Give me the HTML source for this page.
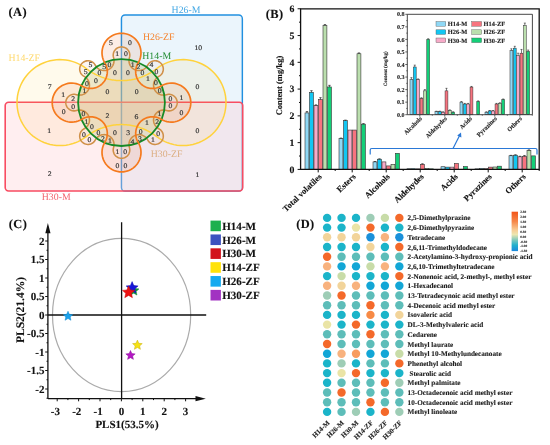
<!DOCTYPE html>
<html><head><meta charset="utf-8"><title>Figure</title>
<style>html,body{margin:0;padding:0;background:#fff;}svg{display:block;filter:blur(0.3px);}</style></head>
<body><svg width="550" height="445" viewBox="0 0 550 445" text-rendering="geometricPrecision">
<rect width="550" height="445" fill="#fff"/>
<g id="panelA">
<rect x="121.45" y="15.05" width="120.9" height="175.95" rx="3.6" fill="rgb(60,160,230)" fill-opacity="0.10" stroke="#2290e0" stroke-width="1.45"/>
<rect x="5.2" y="102.2" width="237.5" height="88.8" rx="3.4" fill="rgb(255,200,205)" fill-opacity="0.30" stroke="#f84c62" stroke-width="1.6"/>
<circle cx="121.5" cy="102.6" r="43.4" fill="rgb(123,160,0)" fill-opacity="0.17"/>
<path d="M156.7 136.62 L159.3 138.48 L162.03 140.14 L164.87 141.59 L167.82 142.83 L170.84 143.85 L173.94 144.63 L177.08 145.19 L180.26 145.51 L183.45 145.6 L186.64 145.45 L189.82 145.06 L192.95 144.43 L196.03 143.58 L199.03 142.5 L201.95 141.2 L204.76 139.69 L207.45 137.97 L210.01 136.06 L212.42 133.96 L214.67 131.69 L216.74 129.26 L218.63 126.68 L220.31 123.97 L221.8 121.14 L223.07 118.21 L224.12 115.19 L224.94 112.11 L225.53 108.97 L225.88 105.79 L226 102.6 L225.88 99.41 L225.53 96.23 L224.94 93.09 L224.12 90.01 L223.07 86.99 L221.8 84.06 L220.31 81.23 L218.63 78.52 L216.74 75.94 L214.67 73.51 L212.42 71.24 L210.01 69.14 L207.45 67.23 L204.76 65.51 L201.95 64 L199.03 62.7 L196.03 61.62 L192.95 60.77 L189.82 60.14 L186.64 59.75 L183.45 59.6 L180.26 59.69 L177.08 60.01 L173.94 60.57 L170.84 61.35 L167.82 62.37 L164.87 63.61 L162.03 65.06 L159.3 66.72 L156.7 68.58 L155.69 69.34 L154.67 70.08 L153.63 70.8 L152.57 71.49 L151.5 72.16 L150.42 72.81 L149.32 73.43 L148.21 74.03 L147.09 74.6 L145.95 75.15 L144.8 75.67 L143.64 76.17 L142.47 76.64 L141.29 77.09 L140.1 77.51 L138.9 77.91 L137.69 78.28 L136.48 78.62 L135.25 78.93 L134.02 79.22 L132.79 79.48 L131.55 79.72 L130.3 79.92 L129.05 80.1 L127.8 80.25 L126.54 80.38 L125.28 80.48 L124.02 80.54 L122.76 80.59 L121.5 80.6 L120.24 80.59 L118.98 80.54 L117.72 80.48 L116.46 80.38 L115.2 80.25 L113.95 80.1 L112.7 79.92 L111.45 79.72 L110.21 79.48 L108.98 79.22 L107.75 78.93 L106.52 78.62 L105.31 78.28 L104.1 77.91 L102.9 77.51 L101.71 77.09 L100.53 76.64 L99.36 76.17 L98.2 75.67 L97.05 75.15 L95.91 74.6 L94.79 74.03 L93.68 73.43 L92.58 72.81 L91.5 72.16 L90.43 71.49 L89.37 70.8 L88.33 70.08 L87.31 69.34 L86.3 68.58 L83.7 66.72 L80.97 65.06 L78.13 63.61 L75.18 62.37 L72.16 61.35 L69.06 60.57 L65.92 60.01 L62.74 59.69 L59.55 59.6 L56.36 59.75 L53.18 60.14 L50.05 60.77 L46.97 61.62 L43.97 62.7 L41.05 64 L38.24 65.51 L35.55 67.23 L32.99 69.14 L30.58 71.24 L28.33 73.51 L26.26 75.94 L24.37 78.52 L22.69 81.23 L21.2 84.06 L19.93 86.99 L18.88 90.01 L18.06 93.09 L17.47 96.23 L17.12 99.41 L17 102.6 L17.12 105.79 L17.47 108.97 L18.06 112.11 L18.88 115.19 L19.93 118.21 L21.2 121.14 L22.69 123.97 L24.37 126.68 L26.26 129.26 L28.33 131.69 L30.58 133.96 L32.99 136.06 L35.55 137.97 L38.24 139.69 L41.05 141.2 L43.97 142.5 L46.97 143.58 L50.05 144.43 L53.18 145.06 L56.36 145.45 L59.55 145.6 L62.74 145.51 L65.92 145.19 L69.06 144.63 L72.16 143.85 L75.18 142.83 L78.13 141.59 L80.97 140.14 L83.7 138.48 L86.3 136.62 L87.31 135.86 L88.33 135.12 L89.37 134.4 L90.43 133.71 L91.5 133.04 L92.58 132.39 L93.68 131.77 L94.79 131.17 L95.91 130.6 L97.05 130.05 L98.2 129.53 L99.36 129.03 L100.53 128.56 L101.71 128.11 L102.9 127.69 L104.1 127.29 L105.31 126.92 L106.52 126.58 L107.75 126.27 L108.98 125.98 L110.21 125.72 L111.45 125.48 L112.7 125.28 L113.95 125.1 L115.2 124.95 L116.46 124.82 L117.72 124.72 L118.98 124.66 L120.24 124.61 L121.5 124.6 L122.76 124.61 L124.02 124.66 L125.28 124.72 L126.54 124.82 L127.8 124.95 L129.05 125.1 L130.3 125.28 L131.55 125.48 L132.79 125.72 L134.02 125.98 L135.25 126.27 L136.48 126.58 L137.69 126.92 L138.9 127.29 L140.1 127.69 L141.29 128.11 L142.47 128.56 L143.64 129.03 L144.8 129.53 L145.95 130.05 L147.09 130.6 L148.21 131.17 L149.32 131.77 L150.42 132.39 L151.5 133.04 L152.57 133.71 L153.63 134.4 L154.67 135.12 L155.69 135.86Z" fill="rgb(255,196,30)" fill-opacity="0.085" stroke="none"/>
<path d="M138.14 62.96 L139.12 61.14 L139.91 59.23 L140.49 57.25 L140.85 55.22 L141 53.16 L140.93 51.1 L140.64 49.05 L140.13 47.05 L139.42 45.11 L138.51 43.26 L137.4 41.51 L136.12 39.89 L134.67 38.42 L133.08 37.11 L131.35 35.97 L129.52 35.03 L127.59 34.28 L125.6 33.74 L123.56 33.41 L121.5 33.3 L119.44 33.41 L117.4 33.74 L115.41 34.28 L113.48 35.03 L111.65 35.97 L109.92 37.11 L108.33 38.42 L106.88 39.89 L105.6 41.51 L104.49 43.26 L103.58 45.11 L102.87 47.05 L102.36 49.05 L102.07 51.1 L102 53.16 L102.15 55.22 L102.51 57.25 L103.09 59.23 L103.88 61.14 L104.86 62.96 L105.41 63.93 L105.89 64.94 L106.3 65.97 L106.65 67.03 L106.92 68.11 L107.12 69.21 L107.25 70.32 L107.31 71.43 L107.29 72.55 L107.19 73.66 L107.02 74.76 L106.78 75.85 L106.47 76.92 L106.08 77.97 L105.63 78.99 L105.11 79.97 L104.52 80.92 L103.88 81.83 L103.17 82.69 L102.41 83.51 L101.59 84.27 L100.73 84.98 L99.82 85.62 L98.87 86.21 L97.89 86.73 L96.87 87.18 L95.82 87.57 L94.75 87.88 L93.66 88.12 L92.56 88.29 L91.45 88.39 L90.33 88.41 L89.22 88.35 L88.11 88.22 L87.01 88.02 L85.93 87.75 L84.87 87.4 L83.84 86.99 L82.83 86.51 L81.86 85.96 L80.04 84.98 L78.13 84.19 L76.15 83.61 L74.12 83.25 L72.06 83.1 L70 83.17 L67.95 83.46 L65.95 83.97 L64.01 84.68 L62.16 85.59 L60.41 86.7 L58.79 87.98 L57.32 89.43 L56.01 91.02 L54.87 92.75 L53.93 94.58 L53.18 96.51 L52.64 98.5 L52.31 100.54 L52.2 102.6 L52.31 104.66 L52.64 106.7 L53.18 108.69 L53.93 110.62 L54.87 112.45 L56.01 114.18 L57.32 115.77 L58.79 117.22 L60.41 118.5 L62.16 119.61 L64.01 120.52 L65.95 121.23 L67.95 121.74 L70 122.03 L72.06 122.1 L74.12 121.95 L76.15 121.59 L78.13 121.01 L80.04 120.22 L81.86 119.24 L82.83 118.69 L83.84 118.21 L84.87 117.8 L85.93 117.45 L87.01 117.18 L88.11 116.98 L89.22 116.85 L90.33 116.79 L91.45 116.81 L92.56 116.91 L93.66 117.08 L94.75 117.32 L95.82 117.63 L96.87 118.02 L97.89 118.47 L98.87 118.99 L99.82 119.58 L100.73 120.22 L101.59 120.93 L102.41 121.69 L103.17 122.51 L103.88 123.37 L104.52 124.28 L105.11 125.23 L105.63 126.21 L106.08 127.23 L106.47 128.28 L106.78 129.35 L107.02 130.44 L107.19 131.54 L107.29 132.65 L107.31 133.77 L107.25 134.88 L107.12 135.99 L106.92 137.09 L106.65 138.17 L106.3 139.23 L105.89 140.26 L105.41 141.27 L104.86 142.24 L103.88 144.06 L103.09 145.97 L102.51 147.95 L102.15 149.98 L102 152.04 L102.07 154.1 L102.36 156.15 L102.87 158.15 L103.58 160.09 L104.49 161.94 L105.6 163.69 L106.88 165.31 L108.33 166.78 L109.92 168.09 L111.65 169.23 L113.48 170.17 L115.41 170.92 L117.4 171.46 L119.44 171.79 L121.5 171.9 L123.56 171.79 L125.6 171.46 L127.59 170.92 L129.52 170.17 L131.35 169.23 L133.08 168.09 L134.67 166.78 L136.12 165.31 L137.4 163.69 L138.51 161.94 L139.42 160.09 L140.13 158.15 L140.64 156.15 L140.93 154.1 L141 152.04 L140.85 149.98 L140.49 147.95 L139.91 145.97 L139.12 144.06 L138.14 142.24 L137.59 141.27 L137.11 140.26 L136.7 139.23 L136.35 138.17 L136.08 137.09 L135.88 135.99 L135.75 134.88 L135.69 133.77 L135.71 132.65 L135.81 131.54 L135.98 130.44 L136.22 129.35 L136.53 128.28 L136.92 127.23 L137.37 126.21 L137.89 125.23 L138.48 124.28 L139.12 123.37 L139.83 122.51 L140.59 121.69 L141.41 120.93 L142.27 120.22 L143.18 119.58 L144.13 118.99 L145.11 118.47 L146.13 118.02 L147.18 117.63 L148.25 117.32 L149.34 117.08 L150.44 116.91 L151.55 116.81 L152.67 116.79 L153.78 116.85 L154.89 116.98 L155.99 117.18 L157.07 117.45 L158.13 117.8 L159.16 118.21 L160.17 118.69 L161.14 119.24 L162.96 120.22 L164.87 121.01 L166.85 121.59 L168.88 121.95 L170.94 122.1 L173 122.03 L175.05 121.74 L177.05 121.23 L178.99 120.52 L180.84 119.61 L182.59 118.5 L184.21 117.22 L185.68 115.77 L186.99 114.18 L188.13 112.45 L189.07 110.62 L189.82 108.69 L190.36 106.7 L190.69 104.66 L190.8 102.6 L190.69 100.54 L190.36 98.5 L189.82 96.51 L189.07 94.58 L188.13 92.75 L186.99 91.02 L185.68 89.43 L184.21 87.98 L182.59 86.7 L180.84 85.59 L178.99 84.68 L177.05 83.97 L175.05 83.46 L173 83.17 L170.94 83.1 L168.88 83.25 L166.85 83.61 L164.87 84.19 L162.96 84.98 L161.14 85.96 L160.17 86.51 L159.16 86.99 L158.13 87.4 L157.07 87.75 L155.99 88.02 L154.89 88.22 L153.78 88.35 L152.67 88.41 L151.55 88.39 L150.44 88.29 L149.34 88.12 L148.25 87.88 L147.18 87.57 L146.13 87.18 L145.11 86.73 L144.13 86.21 L143.18 85.62 L142.27 84.98 L141.41 84.27 L140.59 83.51 L139.83 82.69 L139.12 81.83 L138.48 80.92 L137.89 79.97 L137.37 78.99 L136.92 77.97 L136.53 76.92 L136.22 75.85 L135.98 74.76 L135.81 73.66 L135.71 72.55 L135.69 71.43 L135.75 70.32 L135.88 69.21 L136.08 68.11 L136.35 67.03 L136.7 65.97 L137.11 64.94 L137.59 63.93Z" fill="rgb(232,115,53)" fill-opacity="0.125" stroke="none"/>
<path d="M129.42 57.68 L129.67 56.68 L129.79 55.65 L129.78 54.61 L129.64 53.58 L129.38 52.58 L128.99 51.62 L128.48 50.71 L127.87 49.88 L127.16 49.13 L126.36 48.47 L125.48 47.92 L124.54 47.48 L123.55 47.16 L122.53 46.96 L121.5 46.9 L120.47 46.96 L119.45 47.16 L118.46 47.48 L117.52 47.92 L116.64 48.47 L115.84 49.13 L115.13 49.88 L114.52 50.71 L114.01 51.62 L113.62 52.58 L113.36 53.58 L113.22 54.61 L113.21 55.65 L113.33 56.68 L113.58 57.68 L113.83 58.63 L113.98 59.6 L114.03 60.57 L113.99 61.55 L113.85 62.52 L113.62 63.47 L113.3 64.39 L112.88 65.28 L112.38 66.12 L111.8 66.91 L111.15 67.64 L110.42 68.3 L109.64 68.88 L108.8 69.38 L107.91 69.8 L106.99 70.13 L106.04 70.37 L105.08 70.51 L104.1 70.56 L103.12 70.51 L102.15 70.36 L101.2 70.12 L100.28 69.78 L99.4 69.36 L98.57 68.85 L97.78 68.26 L97.06 67.6 L96.41 66.87 L95.83 66.08 L95.34 65.24 L94.8 64.35 L94.16 63.54 L93.42 62.81 L92.6 62.18 L91.7 61.66 L90.75 61.26 L89.75 60.97 L88.72 60.82 L87.69 60.79 L86.66 60.89 L85.65 61.12 L84.67 61.47 L83.75 61.94 L82.89 62.53 L82.11 63.21 L81.43 63.99 L80.84 64.85 L80.37 65.77 L80.02 66.75 L79.79 67.76 L79.69 68.79 L79.72 69.82 L79.87 70.85 L80.16 71.85 L80.56 72.8 L81.08 73.7 L81.71 74.52 L82.44 75.26 L83.25 75.9 L84.14 76.44 L84.98 76.93 L85.77 77.51 L86.5 78.16 L87.16 78.88 L87.75 79.67 L88.26 80.5 L88.68 81.38 L89.02 82.3 L89.26 83.25 L89.41 84.22 L89.46 85.2 L89.41 86.18 L89.27 87.14 L89.03 88.09 L88.7 89.01 L88.28 89.9 L87.78 90.74 L87.2 91.52 L86.54 92.25 L85.81 92.9 L85.02 93.48 L84.18 93.98 L83.29 94.4 L82.37 94.72 L81.42 94.95 L80.45 95.09 L79.47 95.13 L78.5 95.08 L77.53 94.93 L76.58 94.68 L75.58 94.43 L74.55 94.31 L73.51 94.32 L72.48 94.46 L71.48 94.72 L70.52 95.11 L69.61 95.62 L68.78 96.23 L68.03 96.94 L67.37 97.74 L66.82 98.62 L66.38 99.56 L66.06 100.55 L65.86 101.57 L65.8 102.6 L65.86 103.63 L66.06 104.65 L66.38 105.64 L66.82 106.58 L67.37 107.46 L68.03 108.26 L68.78 108.97 L69.61 109.58 L70.52 110.09 L71.48 110.48 L72.48 110.74 L73.51 110.88 L74.55 110.89 L75.58 110.77 L76.58 110.52 L77.53 110.27 L78.5 110.12 L79.47 110.07 L80.45 110.11 L81.42 110.25 L82.37 110.48 L83.29 110.8 L84.18 111.22 L85.02 111.72 L85.81 112.3 L86.54 112.95 L87.2 113.68 L87.78 114.46 L88.28 115.3 L88.7 116.19 L89.03 117.11 L89.27 118.06 L89.41 119.02 L89.46 120 L89.41 120.98 L89.26 121.95 L89.02 122.9 L88.68 123.82 L88.26 124.7 L87.75 125.53 L87.16 126.32 L86.5 127.04 L85.77 127.69 L84.98 128.27 L84.14 128.76 L83.25 129.3 L82.44 129.94 L81.71 130.68 L81.08 131.5 L80.56 132.4 L80.16 133.35 L79.87 134.35 L79.72 135.38 L79.69 136.41 L79.79 137.44 L80.02 138.45 L80.37 139.43 L80.84 140.35 L81.43 141.21 L82.11 141.99 L82.89 142.67 L83.75 143.26 L84.67 143.73 L85.65 144.08 L86.66 144.31 L87.69 144.41 L88.72 144.38 L89.75 144.23 L90.75 143.94 L91.7 143.54 L92.6 143.02 L93.42 142.39 L94.16 141.66 L94.8 140.85 L95.34 139.96 L95.83 139.12 L96.41 138.33 L97.06 137.6 L97.78 136.94 L98.57 136.35 L99.4 135.84 L100.28 135.42 L101.2 135.08 L102.15 134.84 L103.12 134.69 L104.1 134.64 L105.08 134.69 L106.04 134.83 L106.99 135.07 L107.91 135.4 L108.8 135.82 L109.64 136.32 L110.42 136.9 L111.15 137.56 L111.8 138.29 L112.38 139.08 L112.88 139.92 L113.3 140.81 L113.62 141.73 L113.85 142.68 L113.99 143.65 L114.03 144.63 L113.98 145.6 L113.83 146.57 L113.58 147.52 L113.33 148.52 L113.21 149.55 L113.22 150.59 L113.36 151.62 L113.62 152.62 L114.01 153.58 L114.52 154.49 L115.13 155.32 L115.84 156.07 L116.64 156.73 L117.52 157.28 L118.46 157.72 L119.45 158.04 L120.47 158.24 L121.5 158.3 L122.53 158.24 L123.55 158.04 L124.54 157.72 L125.48 157.28 L126.36 156.73 L127.16 156.07 L127.87 155.32 L128.48 154.49 L128.99 153.58 L129.38 152.62 L129.64 151.62 L129.78 150.59 L129.79 149.55 L129.67 148.52 L129.42 147.52 L129.17 146.57 L129.02 145.6 L128.97 144.63 L129.01 143.65 L129.15 142.68 L129.38 141.73 L129.7 140.81 L130.12 139.92 L130.62 139.08 L131.2 138.29 L131.85 137.56 L132.58 136.9 L133.36 136.32 L134.2 135.82 L135.09 135.4 L136.01 135.07 L136.96 134.83 L137.92 134.69 L138.9 134.64 L139.88 134.69 L140.85 134.84 L141.8 135.08 L142.72 135.42 L143.6 135.84 L144.43 136.35 L145.22 136.94 L145.94 137.6 L146.59 138.33 L147.17 139.12 L147.66 139.96 L148.2 140.85 L148.84 141.66 L149.58 142.39 L150.4 143.02 L151.3 143.54 L152.25 143.94 L153.25 144.23 L154.28 144.38 L155.31 144.41 L156.34 144.31 L157.35 144.08 L158.33 143.73 L159.25 143.26 L160.11 142.67 L160.89 141.99 L161.57 141.21 L162.16 140.35 L162.63 139.43 L162.98 138.45 L163.21 137.44 L163.31 136.41 L163.28 135.38 L163.13 134.35 L162.84 133.35 L162.44 132.4 L161.92 131.5 L161.29 130.68 L160.56 129.94 L159.75 129.3 L158.86 128.76 L158.02 128.27 L157.23 127.69 L156.5 127.04 L155.84 126.32 L155.25 125.53 L154.74 124.7 L154.32 123.82 L153.98 122.9 L153.74 121.95 L153.59 120.98 L153.54 120 L153.59 119.02 L153.73 118.06 L153.97 117.11 L154.3 116.19 L154.72 115.3 L155.22 114.46 L155.8 113.68 L156.46 112.95 L157.19 112.3 L157.98 111.72 L158.82 111.22 L159.71 110.8 L160.63 110.48 L161.58 110.25 L162.55 110.11 L163.53 110.07 L164.5 110.12 L165.47 110.27 L166.42 110.52 L167.42 110.77 L168.45 110.89 L169.49 110.88 L170.52 110.74 L171.52 110.48 L172.48 110.09 L173.39 109.58 L174.22 108.97 L174.97 108.26 L175.63 107.46 L176.18 106.58 L176.62 105.64 L176.94 104.65 L177.14 103.63 L177.2 102.6 L177.14 101.57 L176.94 100.55 L176.62 99.56 L176.18 98.62 L175.63 97.74 L174.97 96.94 L174.22 96.23 L173.39 95.62 L172.48 95.11 L171.52 94.72 L170.52 94.46 L169.49 94.32 L168.45 94.31 L167.42 94.43 L166.42 94.68 L165.47 94.93 L164.5 95.08 L163.53 95.13 L162.55 95.09 L161.58 94.95 L160.63 94.72 L159.71 94.4 L158.82 93.98 L157.98 93.48 L157.19 92.9 L156.46 92.25 L155.8 91.52 L155.22 90.74 L154.72 89.9 L154.3 89.01 L153.97 88.09 L153.73 87.14 L153.59 86.18 L153.54 85.2 L153.59 84.22 L153.74 83.25 L153.98 82.3 L154.32 81.38 L154.74 80.5 L155.25 79.67 L155.84 78.88 L156.5 78.16 L157.23 77.51 L158.02 76.93 L158.86 76.44 L159.75 75.9 L160.56 75.26 L161.29 74.52 L161.92 73.7 L162.44 72.8 L162.84 71.85 L163.13 70.85 L163.28 69.82 L163.31 68.79 L163.21 67.76 L162.98 66.75 L162.63 65.77 L162.16 64.85 L161.57 63.99 L160.89 63.21 L160.11 62.53 L159.25 61.94 L158.33 61.47 L157.35 61.12 L156.34 60.89 L155.31 60.79 L154.28 60.82 L153.25 60.97 L152.25 61.26 L151.3 61.66 L150.4 62.18 L149.58 62.81 L148.84 63.54 L148.2 64.35 L147.66 65.24 L147.17 66.08 L146.59 66.87 L145.94 67.6 L145.22 68.26 L144.43 68.85 L143.6 69.36 L142.72 69.78 L141.8 70.12 L140.85 70.36 L139.88 70.51 L138.9 70.56 L137.92 70.51 L136.96 70.37 L136.01 70.13 L135.09 69.8 L134.2 69.38 L133.36 68.88 L132.58 68.3 L131.85 67.64 L131.2 66.91 L130.62 66.12 L130.12 65.28 L129.7 64.39 L129.38 63.47 L129.15 62.52 L129.01 61.55 L128.97 60.57 L129.02 59.6 L129.17 58.63Z" fill="rgb(244,223,212)" fill-opacity="0.28" stroke="none"/>
<path d="M156.7 136.62 L159.3 138.48 L162.03 140.14 L164.87 141.59 L167.82 142.83 L170.84 143.85 L173.94 144.63 L177.08 145.19 L180.26 145.51 L183.45 145.6 L186.64 145.45 L189.82 145.06 L192.95 144.43 L196.03 143.58 L199.03 142.5 L201.95 141.2 L204.76 139.69 L207.45 137.97 L210.01 136.06 L212.42 133.96 L214.67 131.69 L216.74 129.26 L218.63 126.68 L220.31 123.97 L221.8 121.14 L223.07 118.21 L224.12 115.19 L224.94 112.11 L225.53 108.97 L225.88 105.79 L226 102.6 L225.88 99.41 L225.53 96.23 L224.94 93.09 L224.12 90.01 L223.07 86.99 L221.8 84.06 L220.31 81.23 L218.63 78.52 L216.74 75.94 L214.67 73.51 L212.42 71.24 L210.01 69.14 L207.45 67.23 L204.76 65.51 L201.95 64 L199.03 62.7 L196.03 61.62 L192.95 60.77 L189.82 60.14 L186.64 59.75 L183.45 59.6 L180.26 59.69 L177.08 60.01 L173.94 60.57 L170.84 61.35 L167.82 62.37 L164.87 63.61 L162.03 65.06 L159.3 66.72 L156.7 68.58 L155.69 69.34 L154.67 70.08 L153.63 70.8 L152.57 71.49 L151.5 72.16 L150.42 72.81 L149.32 73.43 L148.21 74.03 L147.09 74.6 L145.95 75.15 L144.8 75.67 L143.64 76.17 L142.47 76.64 L141.29 77.09 L140.1 77.51 L138.9 77.91 L137.69 78.28 L136.48 78.62 L135.25 78.93 L134.02 79.22 L132.79 79.48 L131.55 79.72 L130.3 79.92 L129.05 80.1 L127.8 80.25 L126.54 80.38 L125.28 80.48 L124.02 80.54 L122.76 80.59 L121.5 80.6 L120.24 80.59 L118.98 80.54 L117.72 80.48 L116.46 80.38 L115.2 80.25 L113.95 80.1 L112.7 79.92 L111.45 79.72 L110.21 79.48 L108.98 79.22 L107.75 78.93 L106.52 78.62 L105.31 78.28 L104.1 77.91 L102.9 77.51 L101.71 77.09 L100.53 76.64 L99.36 76.17 L98.2 75.67 L97.05 75.15 L95.91 74.6 L94.79 74.03 L93.68 73.43 L92.58 72.81 L91.5 72.16 L90.43 71.49 L89.37 70.8 L88.33 70.08 L87.31 69.34 L86.3 68.58 L83.7 66.72 L80.97 65.06 L78.13 63.61 L75.18 62.37 L72.16 61.35 L69.06 60.57 L65.92 60.01 L62.74 59.69 L59.55 59.6 L56.36 59.75 L53.18 60.14 L50.05 60.77 L46.97 61.62 L43.97 62.7 L41.05 64 L38.24 65.51 L35.55 67.23 L32.99 69.14 L30.58 71.24 L28.33 73.51 L26.26 75.94 L24.37 78.52 L22.69 81.23 L21.2 84.06 L19.93 86.99 L18.88 90.01 L18.06 93.09 L17.47 96.23 L17.12 99.41 L17 102.6 L17.12 105.79 L17.47 108.97 L18.06 112.11 L18.88 115.19 L19.93 118.21 L21.2 121.14 L22.69 123.97 L24.37 126.68 L26.26 129.26 L28.33 131.69 L30.58 133.96 L32.99 136.06 L35.55 137.97 L38.24 139.69 L41.05 141.2 L43.97 142.5 L46.97 143.58 L50.05 144.43 L53.18 145.06 L56.36 145.45 L59.55 145.6 L62.74 145.51 L65.92 145.19 L69.06 144.63 L72.16 143.85 L75.18 142.83 L78.13 141.59 L80.97 140.14 L83.7 138.48 L86.3 136.62 L87.31 135.86 L88.33 135.12 L89.37 134.4 L90.43 133.71 L91.5 133.04 L92.58 132.39 L93.68 131.77 L94.79 131.17 L95.91 130.6 L97.05 130.05 L98.2 129.53 L99.36 129.03 L100.53 128.56 L101.71 128.11 L102.9 127.69 L104.1 127.29 L105.31 126.92 L106.52 126.58 L107.75 126.27 L108.98 125.98 L110.21 125.72 L111.45 125.48 L112.7 125.28 L113.95 125.1 L115.2 124.95 L116.46 124.82 L117.72 124.72 L118.98 124.66 L120.24 124.61 L121.5 124.6 L122.76 124.61 L124.02 124.66 L125.28 124.72 L126.54 124.82 L127.8 124.95 L129.05 125.1 L130.3 125.28 L131.55 125.48 L132.79 125.72 L134.02 125.98 L135.25 126.27 L136.48 126.58 L137.69 126.92 L138.9 127.29 L140.1 127.69 L141.29 128.11 L142.47 128.56 L143.64 129.03 L144.8 129.53 L145.95 130.05 L147.09 130.6 L148.21 131.17 L149.32 131.77 L150.42 132.39 L151.5 133.04 L152.57 133.71 L153.63 134.4 L154.67 135.12 L155.69 135.86Z" fill="none" stroke="#ffd23c" stroke-width="1.5"/>
<path d="M129.42 57.68 L129.67 56.68 L129.79 55.65 L129.78 54.61 L129.64 53.58 L129.38 52.58 L128.99 51.62 L128.48 50.71 L127.87 49.88 L127.16 49.13 L126.36 48.47 L125.48 47.92 L124.54 47.48 L123.55 47.16 L122.53 46.96 L121.5 46.9 L120.47 46.96 L119.45 47.16 L118.46 47.48 L117.52 47.92 L116.64 48.47 L115.84 49.13 L115.13 49.88 L114.52 50.71 L114.01 51.62 L113.62 52.58 L113.36 53.58 L113.22 54.61 L113.21 55.65 L113.33 56.68 L113.58 57.68 L113.83 58.63 L113.98 59.6 L114.03 60.57 L113.99 61.55 L113.85 62.52 L113.62 63.47 L113.3 64.39 L112.88 65.28 L112.38 66.12 L111.8 66.91 L111.15 67.64 L110.42 68.3 L109.64 68.88 L108.8 69.38 L107.91 69.8 L106.99 70.13 L106.04 70.37 L105.08 70.51 L104.1 70.56 L103.12 70.51 L102.15 70.36 L101.2 70.12 L100.28 69.78 L99.4 69.36 L98.57 68.85 L97.78 68.26 L97.06 67.6 L96.41 66.87 L95.83 66.08 L95.34 65.24 L94.8 64.35 L94.16 63.54 L93.42 62.81 L92.6 62.18 L91.7 61.66 L90.75 61.26 L89.75 60.97 L88.72 60.82 L87.69 60.79 L86.66 60.89 L85.65 61.12 L84.67 61.47 L83.75 61.94 L82.89 62.53 L82.11 63.21 L81.43 63.99 L80.84 64.85 L80.37 65.77 L80.02 66.75 L79.79 67.76 L79.69 68.79 L79.72 69.82 L79.87 70.85 L80.16 71.85 L80.56 72.8 L81.08 73.7 L81.71 74.52 L82.44 75.26 L83.25 75.9 L84.14 76.44 L84.98 76.93 L85.77 77.51 L86.5 78.16 L87.16 78.88 L87.75 79.67 L88.26 80.5 L88.68 81.38 L89.02 82.3 L89.26 83.25 L89.41 84.22 L89.46 85.2 L89.41 86.18 L89.27 87.14 L89.03 88.09 L88.7 89.01 L88.28 89.9 L87.78 90.74 L87.2 91.52 L86.54 92.25 L85.81 92.9 L85.02 93.48 L84.18 93.98 L83.29 94.4 L82.37 94.72 L81.42 94.95 L80.45 95.09 L79.47 95.13 L78.5 95.08 L77.53 94.93 L76.58 94.68 L75.58 94.43 L74.55 94.31 L73.51 94.32 L72.48 94.46 L71.48 94.72 L70.52 95.11 L69.61 95.62 L68.78 96.23 L68.03 96.94 L67.37 97.74 L66.82 98.62 L66.38 99.56 L66.06 100.55 L65.86 101.57 L65.8 102.6 L65.86 103.63 L66.06 104.65 L66.38 105.64 L66.82 106.58 L67.37 107.46 L68.03 108.26 L68.78 108.97 L69.61 109.58 L70.52 110.09 L71.48 110.48 L72.48 110.74 L73.51 110.88 L74.55 110.89 L75.58 110.77 L76.58 110.52 L77.53 110.27 L78.5 110.12 L79.47 110.07 L80.45 110.11 L81.42 110.25 L82.37 110.48 L83.29 110.8 L84.18 111.22 L85.02 111.72 L85.81 112.3 L86.54 112.95 L87.2 113.68 L87.78 114.46 L88.28 115.3 L88.7 116.19 L89.03 117.11 L89.27 118.06 L89.41 119.02 L89.46 120 L89.41 120.98 L89.26 121.95 L89.02 122.9 L88.68 123.82 L88.26 124.7 L87.75 125.53 L87.16 126.32 L86.5 127.04 L85.77 127.69 L84.98 128.27 L84.14 128.76 L83.25 129.3 L82.44 129.94 L81.71 130.68 L81.08 131.5 L80.56 132.4 L80.16 133.35 L79.87 134.35 L79.72 135.38 L79.69 136.41 L79.79 137.44 L80.02 138.45 L80.37 139.43 L80.84 140.35 L81.43 141.21 L82.11 141.99 L82.89 142.67 L83.75 143.26 L84.67 143.73 L85.65 144.08 L86.66 144.31 L87.69 144.41 L88.72 144.38 L89.75 144.23 L90.75 143.94 L91.7 143.54 L92.6 143.02 L93.42 142.39 L94.16 141.66 L94.8 140.85 L95.34 139.96 L95.83 139.12 L96.41 138.33 L97.06 137.6 L97.78 136.94 L98.57 136.35 L99.4 135.84 L100.28 135.42 L101.2 135.08 L102.15 134.84 L103.12 134.69 L104.1 134.64 L105.08 134.69 L106.04 134.83 L106.99 135.07 L107.91 135.4 L108.8 135.82 L109.64 136.32 L110.42 136.9 L111.15 137.56 L111.8 138.29 L112.38 139.08 L112.88 139.92 L113.3 140.81 L113.62 141.73 L113.85 142.68 L113.99 143.65 L114.03 144.63 L113.98 145.6 L113.83 146.57 L113.58 147.52 L113.33 148.52 L113.21 149.55 L113.22 150.59 L113.36 151.62 L113.62 152.62 L114.01 153.58 L114.52 154.49 L115.13 155.32 L115.84 156.07 L116.64 156.73 L117.52 157.28 L118.46 157.72 L119.45 158.04 L120.47 158.24 L121.5 158.3 L122.53 158.24 L123.55 158.04 L124.54 157.72 L125.48 157.28 L126.36 156.73 L127.16 156.07 L127.87 155.32 L128.48 154.49 L128.99 153.58 L129.38 152.62 L129.64 151.62 L129.78 150.59 L129.79 149.55 L129.67 148.52 L129.42 147.52 L129.17 146.57 L129.02 145.6 L128.97 144.63 L129.01 143.65 L129.15 142.68 L129.38 141.73 L129.7 140.81 L130.12 139.92 L130.62 139.08 L131.2 138.29 L131.85 137.56 L132.58 136.9 L133.36 136.32 L134.2 135.82 L135.09 135.4 L136.01 135.07 L136.96 134.83 L137.92 134.69 L138.9 134.64 L139.88 134.69 L140.85 134.84 L141.8 135.08 L142.72 135.42 L143.6 135.84 L144.43 136.35 L145.22 136.94 L145.94 137.6 L146.59 138.33 L147.17 139.12 L147.66 139.96 L148.2 140.85 L148.84 141.66 L149.58 142.39 L150.4 143.02 L151.3 143.54 L152.25 143.94 L153.25 144.23 L154.28 144.38 L155.31 144.41 L156.34 144.31 L157.35 144.08 L158.33 143.73 L159.25 143.26 L160.11 142.67 L160.89 141.99 L161.57 141.21 L162.16 140.35 L162.63 139.43 L162.98 138.45 L163.21 137.44 L163.31 136.41 L163.28 135.38 L163.13 134.35 L162.84 133.35 L162.44 132.4 L161.92 131.5 L161.29 130.68 L160.56 129.94 L159.75 129.3 L158.86 128.76 L158.02 128.27 L157.23 127.69 L156.5 127.04 L155.84 126.32 L155.25 125.53 L154.74 124.7 L154.32 123.82 L153.98 122.9 L153.74 121.95 L153.59 120.98 L153.54 120 L153.59 119.02 L153.73 118.06 L153.97 117.11 L154.3 116.19 L154.72 115.3 L155.22 114.46 L155.8 113.68 L156.46 112.95 L157.19 112.3 L157.98 111.72 L158.82 111.22 L159.71 110.8 L160.63 110.48 L161.58 110.25 L162.55 110.11 L163.53 110.07 L164.5 110.12 L165.47 110.27 L166.42 110.52 L167.42 110.77 L168.45 110.89 L169.49 110.88 L170.52 110.74 L171.52 110.48 L172.48 110.09 L173.39 109.58 L174.22 108.97 L174.97 108.26 L175.63 107.46 L176.18 106.58 L176.62 105.64 L176.94 104.65 L177.14 103.63 L177.2 102.6 L177.14 101.57 L176.94 100.55 L176.62 99.56 L176.18 98.62 L175.63 97.74 L174.97 96.94 L174.22 96.23 L173.39 95.62 L172.48 95.11 L171.52 94.72 L170.52 94.46 L169.49 94.32 L168.45 94.31 L167.42 94.43 L166.42 94.68 L165.47 94.93 L164.5 95.08 L163.53 95.13 L162.55 95.09 L161.58 94.95 L160.63 94.72 L159.71 94.4 L158.82 93.98 L157.98 93.48 L157.19 92.9 L156.46 92.25 L155.8 91.52 L155.22 90.74 L154.72 89.9 L154.3 89.01 L153.97 88.09 L153.73 87.14 L153.59 86.18 L153.54 85.2 L153.59 84.22 L153.74 83.25 L153.98 82.3 L154.32 81.38 L154.74 80.5 L155.25 79.67 L155.84 78.88 L156.5 78.16 L157.23 77.51 L158.02 76.93 L158.86 76.44 L159.75 75.9 L160.56 75.26 L161.29 74.52 L161.92 73.7 L162.44 72.8 L162.84 71.85 L163.13 70.85 L163.28 69.82 L163.31 68.79 L163.21 67.76 L162.98 66.75 L162.63 65.77 L162.16 64.85 L161.57 63.99 L160.89 63.21 L160.11 62.53 L159.25 61.94 L158.33 61.47 L157.35 61.12 L156.34 60.89 L155.31 60.79 L154.28 60.82 L153.25 60.97 L152.25 61.26 L151.3 61.66 L150.4 62.18 L149.58 62.81 L148.84 63.54 L148.2 64.35 L147.66 65.24 L147.17 66.08 L146.59 66.87 L145.94 67.6 L145.22 68.26 L144.43 68.85 L143.6 69.36 L142.72 69.78 L141.8 70.12 L140.85 70.36 L139.88 70.51 L138.9 70.56 L137.92 70.51 L136.96 70.37 L136.01 70.13 L135.09 69.8 L134.2 69.38 L133.36 68.88 L132.58 68.3 L131.85 67.64 L131.2 66.91 L130.62 66.12 L130.12 65.28 L129.7 64.39 L129.38 63.47 L129.15 62.52 L129.01 61.55 L128.97 60.57 L129.02 59.6 L129.17 58.63Z" fill="none" stroke="#d09048" stroke-width="1.55"/>
<circle cx="121.5" cy="102.6" r="43.4" fill="none" stroke="#168a26" stroke-width="1.8"/>
<path d="M138.14 62.96 L139.12 61.14 L139.91 59.23 L140.49 57.25 L140.85 55.22 L141 53.16 L140.93 51.1 L140.64 49.05 L140.13 47.05 L139.42 45.11 L138.51 43.26 L137.4 41.51 L136.12 39.89 L134.67 38.42 L133.08 37.11 L131.35 35.97 L129.52 35.03 L127.59 34.28 L125.6 33.74 L123.56 33.41 L121.5 33.3 L119.44 33.41 L117.4 33.74 L115.41 34.28 L113.48 35.03 L111.65 35.97 L109.92 37.11 L108.33 38.42 L106.88 39.89 L105.6 41.51 L104.49 43.26 L103.58 45.11 L102.87 47.05 L102.36 49.05 L102.07 51.1 L102 53.16 L102.15 55.22 L102.51 57.25 L103.09 59.23 L103.88 61.14 L104.86 62.96 L105.41 63.93 L105.89 64.94 L106.3 65.97 L106.65 67.03 L106.92 68.11 L107.12 69.21 L107.25 70.32 L107.31 71.43 L107.29 72.55 L107.19 73.66 L107.02 74.76 L106.78 75.85 L106.47 76.92 L106.08 77.97 L105.63 78.99 L105.11 79.97 L104.52 80.92 L103.88 81.83 L103.17 82.69 L102.41 83.51 L101.59 84.27 L100.73 84.98 L99.82 85.62 L98.87 86.21 L97.89 86.73 L96.87 87.18 L95.82 87.57 L94.75 87.88 L93.66 88.12 L92.56 88.29 L91.45 88.39 L90.33 88.41 L89.22 88.35 L88.11 88.22 L87.01 88.02 L85.93 87.75 L84.87 87.4 L83.84 86.99 L82.83 86.51 L81.86 85.96 L80.04 84.98 L78.13 84.19 L76.15 83.61 L74.12 83.25 L72.06 83.1 L70 83.17 L67.95 83.46 L65.95 83.97 L64.01 84.68 L62.16 85.59 L60.41 86.7 L58.79 87.98 L57.32 89.43 L56.01 91.02 L54.87 92.75 L53.93 94.58 L53.18 96.51 L52.64 98.5 L52.31 100.54 L52.2 102.6 L52.31 104.66 L52.64 106.7 L53.18 108.69 L53.93 110.62 L54.87 112.45 L56.01 114.18 L57.32 115.77 L58.79 117.22 L60.41 118.5 L62.16 119.61 L64.01 120.52 L65.95 121.23 L67.95 121.74 L70 122.03 L72.06 122.1 L74.12 121.95 L76.15 121.59 L78.13 121.01 L80.04 120.22 L81.86 119.24 L82.83 118.69 L83.84 118.21 L84.87 117.8 L85.93 117.45 L87.01 117.18 L88.11 116.98 L89.22 116.85 L90.33 116.79 L91.45 116.81 L92.56 116.91 L93.66 117.08 L94.75 117.32 L95.82 117.63 L96.87 118.02 L97.89 118.47 L98.87 118.99 L99.82 119.58 L100.73 120.22 L101.59 120.93 L102.41 121.69 L103.17 122.51 L103.88 123.37 L104.52 124.28 L105.11 125.23 L105.63 126.21 L106.08 127.23 L106.47 128.28 L106.78 129.35 L107.02 130.44 L107.19 131.54 L107.29 132.65 L107.31 133.77 L107.25 134.88 L107.12 135.99 L106.92 137.09 L106.65 138.17 L106.3 139.23 L105.89 140.26 L105.41 141.27 L104.86 142.24 L103.88 144.06 L103.09 145.97 L102.51 147.95 L102.15 149.98 L102 152.04 L102.07 154.1 L102.36 156.15 L102.87 158.15 L103.58 160.09 L104.49 161.94 L105.6 163.69 L106.88 165.31 L108.33 166.78 L109.92 168.09 L111.65 169.23 L113.48 170.17 L115.41 170.92 L117.4 171.46 L119.44 171.79 L121.5 171.9 L123.56 171.79 L125.6 171.46 L127.59 170.92 L129.52 170.17 L131.35 169.23 L133.08 168.09 L134.67 166.78 L136.12 165.31 L137.4 163.69 L138.51 161.94 L139.42 160.09 L140.13 158.15 L140.64 156.15 L140.93 154.1 L141 152.04 L140.85 149.98 L140.49 147.95 L139.91 145.97 L139.12 144.06 L138.14 142.24 L137.59 141.27 L137.11 140.26 L136.7 139.23 L136.35 138.17 L136.08 137.09 L135.88 135.99 L135.75 134.88 L135.69 133.77 L135.71 132.65 L135.81 131.54 L135.98 130.44 L136.22 129.35 L136.53 128.28 L136.92 127.23 L137.37 126.21 L137.89 125.23 L138.48 124.28 L139.12 123.37 L139.83 122.51 L140.59 121.69 L141.41 120.93 L142.27 120.22 L143.18 119.58 L144.13 118.99 L145.11 118.47 L146.13 118.02 L147.18 117.63 L148.25 117.32 L149.34 117.08 L150.44 116.91 L151.55 116.81 L152.67 116.79 L153.78 116.85 L154.89 116.98 L155.99 117.18 L157.07 117.45 L158.13 117.8 L159.16 118.21 L160.17 118.69 L161.14 119.24 L162.96 120.22 L164.87 121.01 L166.85 121.59 L168.88 121.95 L170.94 122.1 L173 122.03 L175.05 121.74 L177.05 121.23 L178.99 120.52 L180.84 119.61 L182.59 118.5 L184.21 117.22 L185.68 115.77 L186.99 114.18 L188.13 112.45 L189.07 110.62 L189.82 108.69 L190.36 106.7 L190.69 104.66 L190.8 102.6 L190.69 100.54 L190.36 98.5 L189.82 96.51 L189.07 94.58 L188.13 92.75 L186.99 91.02 L185.68 89.43 L184.21 87.98 L182.59 86.7 L180.84 85.59 L178.99 84.68 L177.05 83.97 L175.05 83.46 L173 83.17 L170.94 83.1 L168.88 83.25 L166.85 83.61 L164.87 84.19 L162.96 84.98 L161.14 85.96 L160.17 86.51 L159.16 86.99 L158.13 87.4 L157.07 87.75 L155.99 88.02 L154.89 88.22 L153.78 88.35 L152.67 88.41 L151.55 88.39 L150.44 88.29 L149.34 88.12 L148.25 87.88 L147.18 87.57 L146.13 87.18 L145.11 86.73 L144.13 86.21 L143.18 85.62 L142.27 84.98 L141.41 84.27 L140.59 83.51 L139.83 82.69 L139.12 81.83 L138.48 80.92 L137.89 79.97 L137.37 78.99 L136.92 77.97 L136.53 76.92 L136.22 75.85 L135.98 74.76 L135.81 73.66 L135.71 72.55 L135.69 71.43 L135.75 70.32 L135.88 69.21 L136.08 68.11 L136.35 67.03 L136.7 65.97 L137.11 64.94 L137.59 63.93Z" fill="none" stroke="#f57a1e" stroke-width="1.7"/>
<g font-family="'Liberation Serif', 'Times New Roman', serif" font-size="7.0" fill="#333" stroke="#333" stroke-width="0.18" text-anchor="middle">
<text transform="translate(198.3 49.5) scale(1.1 1)">10</text>
<text transform="translate(49.6 88.9) scale(1.1 1)">7</text>
<text transform="translate(197.3 89) scale(1.1 1)">0</text>
<text transform="translate(49.2 132.5) scale(1.1 1)">1</text>
<text transform="translate(197.3 132.5) scale(1.1 1)">0</text>
<text transform="translate(49.6 176) scale(1.1 1)">2</text>
<text transform="translate(197.3 176.5) scale(1.1 1)">1</text>
<text transform="translate(111 45) scale(1.1 1)">5</text>
<text transform="translate(130 45) scale(1.1 1)">0</text>
<text transform="translate(117.2 56) scale(1.1 1)">1</text>
<text transform="translate(125.8 56) scale(1.1 1)">0</text>
<text transform="translate(90.5 67.3) scale(1.1 1)">5</text>
<text transform="translate(85.6 73.9) scale(1.1 1)">5</text>
<text transform="translate(104.2 69) scale(1.1 1)">5</text>
<text transform="translate(109.5 67.1) scale(1.1 1)">0</text>
<text transform="translate(99.3 75.1) scale(1.1 1)">0</text>
<text transform="translate(115 75.1) scale(1.1 1)">0</text>
<text transform="translate(96 82.9) scale(1.1 1)">0</text>
<text transform="translate(87 85.9) scale(1.1 1)">0</text>
<text transform="translate(132.7 67.3) scale(1.1 1)">1</text>
<text transform="translate(138.5 69.1) scale(1.1 1)">2</text>
<text transform="translate(151.4 67.3) scale(1.1 1)">4</text>
<text transform="translate(127.8 75.1) scale(1.1 1)">0</text>
<text transform="translate(142.5 75.1) scale(1.1 1)">0</text>
<text transform="translate(156.5 73.9) scale(1.1 1)">0</text>
<text transform="translate(147.9 81.3) scale(1.1 1)">1</text>
<text transform="translate(156 84.9) scale(1.1 1)">0</text>
<text transform="translate(159.7 92.6) scale(1.1 1)">0</text>
<text transform="translate(170.3 100.7) scale(1.1 1)">0</text>
<text transform="translate(181.5 99.7) scale(1.1 1)">1</text>
<text transform="translate(170.3 107.8) scale(1.1 1)">0</text>
<text transform="translate(181.3 114.9) scale(1.1 1)">0</text>
<text transform="translate(159.4 116) scale(1.1 1)">1</text>
<text transform="translate(157.2 123.8) scale(1.1 1)">2</text>
<text transform="translate(146.8 125.3) scale(1.1 1)">1</text>
<text transform="translate(136.4 119.3) scale(1.1 1)">6</text>
<text transform="translate(107.4 118.4) scale(1.1 1)">2</text>
<text transform="translate(107.4 94.4) scale(1.1 1)">0</text>
<text transform="translate(136.6 94.1) scale(1.1 1)">0</text>
<text transform="translate(128.2 135.4) scale(1.1 1)">3</text>
<text transform="translate(140.6 133.7) scale(1.1 1)">0</text>
<text transform="translate(158.1 135.8) scale(1.1 1)">0</text>
<text transform="translate(139.8 140.7) scale(1.1 1)">3</text>
<text transform="translate(132.5 143.5) scale(1.1 1)">4</text>
<text transform="translate(152.8 141.8) scale(1.1 1)">1</text>
<text transform="translate(117.3 154) scale(1.1 1)">1</text>
<text transform="translate(125.2 154) scale(1.1 1)">0</text>
<text transform="translate(117.3 168.4) scale(1.1 1)">0</text>
<text transform="translate(125.4 168.4) scale(1.1 1)">0</text>
<text transform="translate(83.4 116.2) scale(1.1 1)">0</text>
<text transform="translate(86.4 124.1) scale(1.1 1)">1</text>
<text transform="translate(92 128.6) scale(1.1 1)">0</text>
<text transform="translate(83.8 136.7) scale(1.1 1)">0</text>
<text transform="translate(98.4 135.4) scale(1.1 1)">0</text>
<text transform="translate(115 134.6) scale(1.1 1)">0</text>
<text transform="translate(89.4 141.8) scale(1.1 1)">0</text>
<text transform="translate(103 141) scale(1.1 1)">2</text>
<text transform="translate(109.9 142.7) scale(1.1 1)">1</text>
<text transform="translate(84.3 92.6) scale(1.1 1)">1</text>
<text transform="translate(63.1 97.2) scale(1.1 1)">1</text>
<text transform="translate(73.2 100.7) scale(1.1 1)">2</text>
<text transform="translate(73.2 108.8) scale(1.1 1)">0</text>
<text transform="translate(63.6 113.8) scale(1.1 1)">0</text>
</g>
<text x="8.6" y="16.3" letter-spacing="0.4" font-family="'Liberation Serif', 'Times New Roman', serif" font-weight="bold" font-size="12.4" fill="#111" stroke="#111" stroke-width="0.12">(A)</text>
<g font-family="'Liberation Serif', 'Times New Roman', serif" font-size="9.8" stroke="none">
<text x="186" y="13.4" text-anchor="middle" fill="#44a8e4" stroke="none">H26-M</text>
<text x="158.7" y="39.8" text-anchor="middle" fill="#f5842e" stroke="none">H26-ZF</text>
<text x="156.7" y="59" text-anchor="middle" fill="#1f8a30" stroke="none">H14-M</text>
<text x="24.2" y="60.8" text-anchor="middle" fill="#ffd86a" stroke="none">H14-ZF</text>
<text x="166.6" y="156.6" text-anchor="middle" fill="#dcae82" stroke="none">H30-ZF</text>
<text x="56.2" y="200" text-anchor="middle" fill="#f2646e" stroke="none">H30-M</text>
</g>
</g>
<g id="panelB">
<text x="265.7" y="17.5" letter-spacing="0.4" font-family="'Liberation Serif', 'Times New Roman', serif" font-weight="bold" font-size="12.4" fill="#111" stroke="#111" stroke-width="0.12">(B)</text>
<rect x="305" y="112.92" width="3.9" height="56.48" fill="#8fd8f5" stroke="#333" stroke-width="0.6"/>
<path d="M306.95 112.92 V111.58 M305.75 111.58 H308.15" stroke="#222" stroke-width="0.7" fill="none"/>
<rect x="309.5" y="92.3" width="3.9" height="77.1" fill="#12c6f2" stroke="#333" stroke-width="0.6"/>
<path d="M311.45 92.3 V90.7 M310.25 90.7 H312.65" stroke="#222" stroke-width="0.7" fill="none"/>
<rect x="314" y="105.69" width="3.9" height="63.71" fill="#f7aac8" stroke="#333" stroke-width="0.6"/>
<path d="M315.95 105.69 V104.88 M314.75 104.88 H317.15" stroke="#222" stroke-width="0.7" fill="none"/>
<rect x="318.5" y="99.53" width="3.9" height="69.87" fill="#f7737f" stroke="#333" stroke-width="0.6"/>
<path d="M320.45 99.53 V97.66 M319.25 97.66 H321.65" stroke="#222" stroke-width="0.7" fill="none"/>
<rect x="323" y="25.65" width="3.9" height="143.75" fill="#bbdfae" stroke="#333" stroke-width="0.6"/>
<path d="M324.95 25.65 V24.57 M323.75 24.57 H326.15" stroke="#222" stroke-width="0.7" fill="none"/>
<rect x="327.5" y="86.95" width="3.9" height="82.45" fill="#14cf78" stroke="#333" stroke-width="0.6"/>
<path d="M329.45 86.95 V85.34 M328.25 85.34 H330.65" stroke="#222" stroke-width="0.7" fill="none"/>
<rect x="339" y="138.61" width="3.9" height="30.79" fill="#8fd8f5" stroke="#333" stroke-width="0.6"/>
<path d="M340.95 138.61 V138.08 M339.75 138.08 H342.15" stroke="#222" stroke-width="0.7" fill="none"/>
<rect x="343.5" y="120.68" width="3.9" height="48.72" fill="#12c6f2" stroke="#333" stroke-width="0.6"/>
<path d="M345.45 120.68 V120.14 M344.25 120.14 H346.65" stroke="#222" stroke-width="0.7" fill="none"/>
<rect x="348" y="130.05" width="3.9" height="39.35" fill="#f7aac8" stroke="#333" stroke-width="0.6"/>
<rect x="352.5" y="130.05" width="3.9" height="39.35" fill="#f7737f" stroke="#333" stroke-width="0.6"/>
<rect x="357" y="53.75" width="3.9" height="115.65" fill="#bbdfae" stroke="#333" stroke-width="0.6"/>
<path d="M358.95 53.75 V52.95 M357.75 52.95 H360.15" stroke="#222" stroke-width="0.7" fill="none"/>
<rect x="361.5" y="124.16" width="3.9" height="45.24" fill="#14cf78" stroke="#333" stroke-width="0.6"/>
<path d="M363.45 124.16 V123.62 M362.25 123.62 H364.65" stroke="#222" stroke-width="0.7" fill="none"/>
<rect x="373" y="161.9" width="3.9" height="7.5" fill="#8fd8f5" stroke="#333" stroke-width="0.6"/>
<path d="M374.95 161.9 V161.5 M373.75 161.5 H376.15" stroke="#222" stroke-width="0.7" fill="none"/>
<rect x="377.5" y="159.23" width="3.9" height="10.17" fill="#12c6f2" stroke="#333" stroke-width="0.6"/>
<path d="M379.45 159.23 V158.83 M378.25 158.83 H380.65" stroke="#222" stroke-width="0.7" fill="none"/>
<rect x="382" y="161.9" width="3.9" height="7.5" fill="#f7aac8" stroke="#333" stroke-width="0.6"/>
<rect x="386.5" y="165.92" width="3.9" height="3.48" fill="#f7737f" stroke="#333" stroke-width="0.6"/>
<rect x="391" y="164.31" width="3.9" height="5.09" fill="#bbdfae" stroke="#333" stroke-width="0.6"/>
<rect x="395.5" y="153.34" width="3.9" height="16.06" fill="#14cf78" stroke="#333" stroke-width="0.6"/>
<rect x="407" y="168.73" width="3.9" height="0.67" fill="#8fd8f5" stroke="#333" stroke-width="0.6"/>
<rect x="411.5" y="168.73" width="3.9" height="0.67" fill="#12c6f2" stroke="#333" stroke-width="0.6"/>
<rect x="416" y="168.86" width="3.9" height="0.54" fill="#f7aac8" stroke="#333" stroke-width="0.6"/>
<rect x="420.5" y="164.31" width="3.9" height="5.09" fill="#f7737f" stroke="#333" stroke-width="0.6"/>
<path d="M422.45 164.31 V163.78 M421.25 163.78 H423.65" stroke="#222" stroke-width="0.7" fill="none"/>
<rect x="425" y="168.46" width="3.9" height="0.94" fill="#bbdfae" stroke="#333" stroke-width="0.6"/>
<rect x="429.5" y="168.86" width="3.9" height="0.54" fill="#14cf78" stroke="#333" stroke-width="0.6"/>
<rect x="441" y="166.72" width="3.9" height="2.68" fill="#8fd8f5" stroke="#333" stroke-width="0.6"/>
<rect x="445.5" y="167.12" width="3.9" height="2.28" fill="#12c6f2" stroke="#333" stroke-width="0.6"/>
<rect x="450" y="167.12" width="3.9" height="2.28" fill="#f7aac8" stroke="#333" stroke-width="0.6"/>
<rect x="454.5" y="163.51" width="3.9" height="5.89" fill="#f7737f" stroke="#333" stroke-width="0.6"/>
<rect x="463.5" y="166.59" width="3.9" height="2.81" fill="#14cf78" stroke="#333" stroke-width="0.6"/>
<rect x="475" y="168.86" width="3.9" height="0.54" fill="#8fd8f5" stroke="#333" stroke-width="0.6"/>
<rect x="479.5" y="168.6" width="3.9" height="0.8" fill="#12c6f2" stroke="#333" stroke-width="0.6"/>
<rect x="484" y="168.6" width="3.9" height="0.8" fill="#f7aac8" stroke="#333" stroke-width="0.6"/>
<rect x="488.5" y="167.12" width="3.9" height="2.28" fill="#f7737f" stroke="#333" stroke-width="0.6"/>
<rect x="493" y="166.99" width="3.9" height="2.41" fill="#bbdfae" stroke="#333" stroke-width="0.6"/>
<rect x="497.5" y="166.19" width="3.9" height="3.21" fill="#14cf78" stroke="#333" stroke-width="0.6"/>
<rect x="509" y="155.75" width="3.9" height="13.65" fill="#8fd8f5" stroke="#333" stroke-width="0.6"/>
<path d="M510.95 155.75 V155.35 M509.75 155.35 H512.15" stroke="#222" stroke-width="0.7" fill="none"/>
<rect x="513.5" y="155.21" width="3.9" height="14.19" fill="#12c6f2" stroke="#333" stroke-width="0.6"/>
<path d="M515.45 155.21 V154.81 M514.25 154.81 H516.65" stroke="#222" stroke-width="0.7" fill="none"/>
<rect x="518" y="156.82" width="3.9" height="12.58" fill="#f7aac8" stroke="#333" stroke-width="0.6"/>
<path d="M519.95 156.82 V156.28 M518.75 156.28 H521.15" stroke="#222" stroke-width="0.7" fill="none"/>
<rect x="522.5" y="156.28" width="3.9" height="13.12" fill="#f7737f" stroke="#333" stroke-width="0.6"/>
<path d="M524.45 156.28 V155.48 M523.25 155.48 H525.65" stroke="#222" stroke-width="0.7" fill="none"/>
<rect x="527" y="150.39" width="3.9" height="19.01" fill="#bbdfae" stroke="#333" stroke-width="0.6"/>
<path d="M528.95 150.39 V149.86 M527.75 149.86 H530.15" stroke="#222" stroke-width="0.7" fill="none"/>
<rect x="531.5" y="155.88" width="3.9" height="13.52" fill="#14cf78" stroke="#333" stroke-width="0.6"/>
<path d="M300.6 8.8 H539.2 V169.4 H300.6 Z" fill="none" stroke="#111" stroke-width="1.3"/>
<text x="294.4" y="172.7" text-anchor="end" font-family="'Liberation Serif', 'Times New Roman', serif" font-weight="bold" font-size="9.8" fill="#111" stroke="#111" stroke-width="0.12">0</text>
<text x="294.4" y="145.93" text-anchor="end" font-family="'Liberation Serif', 'Times New Roman', serif" font-weight="bold" font-size="9.8" fill="#111" stroke="#111" stroke-width="0.12">1</text>
<text x="294.4" y="119.16" text-anchor="end" font-family="'Liberation Serif', 'Times New Roman', serif" font-weight="bold" font-size="9.8" fill="#111" stroke="#111" stroke-width="0.12">2</text>
<text x="294.4" y="92.39" text-anchor="end" font-family="'Liberation Serif', 'Times New Roman', serif" font-weight="bold" font-size="9.8" fill="#111" stroke="#111" stroke-width="0.12">3</text>
<text x="294.4" y="65.62" text-anchor="end" font-family="'Liberation Serif', 'Times New Roman', serif" font-weight="bold" font-size="9.8" fill="#111" stroke="#111" stroke-width="0.12">4</text>
<text x="294.4" y="38.85" text-anchor="end" font-family="'Liberation Serif', 'Times New Roman', serif" font-weight="bold" font-size="9.8" fill="#111" stroke="#111" stroke-width="0.12">5</text>
<text x="294.4" y="12.08" text-anchor="end" font-family="'Liberation Serif', 'Times New Roman', serif" font-weight="bold" font-size="9.8" fill="#111" stroke="#111" stroke-width="0.12">6</text>
<path d="M297.6 169.4 H300.6 M297.6 142.63 H300.6 M297.6 115.86 H300.6 M297.6 89.09 H300.6 M297.6 62.32 H300.6 M297.6 35.55 H300.6 M297.6 8.78 H300.6 M299 156.02 H300.6 M299 129.25 H300.6 M299 102.48 H300.6 M299 75.71 H300.6 M299 48.94 H300.6 M299 22.17 H300.6 M318.2 169.4 V172.4 M335.2 169.4 V171 M352.2 169.4 V172.4 M369.2 169.4 V171 M386.2 169.4 V172.4 M403.2 169.4 V171 M420.2 169.4 V172.4 M437.2 169.4 V171 M454.2 169.4 V172.4 M471.2 169.4 V171 M488.2 169.4 V172.4 M505.2 169.4 V171 M522.2 169.4 V172.4 M539.2 169.4 V171" stroke="#111" stroke-width="1" fill="none"/>
<text transform="translate(282.1,85.5) rotate(-90)" text-anchor="middle" font-family="'Liberation Serif', 'Times New Roman', serif" font-weight="bold" font-size="8.5" fill="#111" stroke="#111" stroke-width="0.12">Content (mg/kg)</text>
<text transform="translate(322.4,177.1) rotate(-44)" text-anchor="end" font-family="'Liberation Serif', 'Times New Roman', serif" font-weight="bold" font-size="8.5" fill="#111" stroke="#111" stroke-width="0.12">Total volatiles</text>
<text transform="translate(356.4,177.1) rotate(-44)" text-anchor="end" font-family="'Liberation Serif', 'Times New Roman', serif" font-weight="bold" font-size="8.5" fill="#111" stroke="#111" stroke-width="0.12">Esters</text>
<text transform="translate(390.4,177.1) rotate(-44)" text-anchor="end" font-family="'Liberation Serif', 'Times New Roman', serif" font-weight="bold" font-size="8.5" fill="#111" stroke="#111" stroke-width="0.12">Alcohols</text>
<text transform="translate(424.4,177.1) rotate(-44)" text-anchor="end" font-family="'Liberation Serif', 'Times New Roman', serif" font-weight="bold" font-size="8.5" fill="#111" stroke="#111" stroke-width="0.12">Aldehydes</text>
<text transform="translate(458.4,177.1) rotate(-44)" text-anchor="end" font-family="'Liberation Serif', 'Times New Roman', serif" font-weight="bold" font-size="8.5" fill="#111" stroke="#111" stroke-width="0.12">Acids</text>
<text transform="translate(492.4,177.1) rotate(-44)" text-anchor="end" font-family="'Liberation Serif', 'Times New Roman', serif" font-weight="bold" font-size="8.5" fill="#111" stroke="#111" stroke-width="0.12">Pyrazines</text>
<text transform="translate(526.4,177.1) rotate(-44)" text-anchor="end" font-family="'Liberation Serif', 'Times New Roman', serif" font-weight="bold" font-size="8.5" fill="#111" stroke="#111" stroke-width="0.12">Others</text>
<path d="M370.2 154.5 V150 Q370.2 148.5 371.7 148.5 H535.5 Q537 148.5 537 150 V154.5" fill="none" stroke="#2a78d6" stroke-width="1.2"/>
<path d="M453 148.5 L459.6 135.5" fill="none" stroke="#2a78d6" stroke-width="1.2"/>
<path d="M461 132.6 L457.2 135.6 L461.4 137.4 Z" fill="#2a78d6"/>
<rect x="409.97" y="79.56" width="2.86" height="35.14" fill="#8fd8f5" stroke="#333" stroke-width="0.5"/>
<path d="M411.4 79.56 V77.68 M410.4 77.68 H412.4" stroke="#222" stroke-width="0.6" fill="none"/>
<rect x="413.33" y="67.01" width="2.86" height="47.69" fill="#12c6f2" stroke="#333" stroke-width="0.5"/>
<path d="M414.76 67.01 V65.13 M413.76 65.13 H415.76" stroke="#222" stroke-width="0.6" fill="none"/>
<rect x="416.69" y="79.56" width="2.86" height="35.14" fill="#f7aac8" stroke="#333" stroke-width="0.5"/>
<path d="M418.12 79.56 V78.93 M417.12 78.93 H419.12" stroke="#222" stroke-width="0.6" fill="none"/>
<rect x="420.05" y="98.39" width="2.86" height="16.31" fill="#f7737f" stroke="#333" stroke-width="0.5"/>
<path d="M421.48 98.39 V97.76 M420.48 97.76 H422.48" stroke="#222" stroke-width="0.6" fill="none"/>
<rect x="423.41" y="90.86" width="2.86" height="23.84" fill="#bbdfae" stroke="#333" stroke-width="0.5"/>
<path d="M424.84 90.86 V89.6 M423.84 89.6 H425.84" stroke="#222" stroke-width="0.6" fill="none"/>
<rect x="426.77" y="39.4" width="2.86" height="75.3" fill="#14cf78" stroke="#333" stroke-width="0.5"/>
<path d="M428.2 39.4 V38.77 M427.2 38.77 H429.2" stroke="#222" stroke-width="0.6" fill="none"/>
<rect x="434.97" y="111.56" width="2.86" height="3.14" fill="#8fd8f5" stroke="#333" stroke-width="0.5"/>
<path d="M436.4 111.56 V111.19 M435.4 111.19 H437.4" stroke="#222" stroke-width="0.6" fill="none"/>
<rect x="438.33" y="111.56" width="2.86" height="3.14" fill="#12c6f2" stroke="#333" stroke-width="0.5"/>
<path d="M439.76 111.56 V111.19 M438.76 111.19 H440.76" stroke="#222" stroke-width="0.6" fill="none"/>
<rect x="441.69" y="112.19" width="2.86" height="2.51" fill="#f7aac8" stroke="#333" stroke-width="0.5"/>
<path d="M443.12 112.19 V111.81 M442.12 111.81 H444.12" stroke="#222" stroke-width="0.6" fill="none"/>
<rect x="445.05" y="90.86" width="2.86" height="23.84" fill="#f7737f" stroke="#333" stroke-width="0.5"/>
<path d="M446.48 90.86 V88.34 M445.48 88.34 H447.48" stroke="#222" stroke-width="0.6" fill="none"/>
<rect x="448.41" y="110.31" width="2.86" height="4.39" fill="#bbdfae" stroke="#333" stroke-width="0.5"/>
<path d="M449.84 110.31 V109.93 M448.84 109.93 H450.84" stroke="#222" stroke-width="0.6" fill="none"/>
<rect x="451.77" y="112.19" width="2.86" height="2.51" fill="#14cf78" stroke="#333" stroke-width="0.5"/>
<path d="M453.2 112.19 V111.81 M452.2 111.81 H454.2" stroke="#222" stroke-width="0.6" fill="none"/>
<rect x="459.97" y="102.15" width="2.86" height="12.55" fill="#8fd8f5" stroke="#333" stroke-width="0.5"/>
<path d="M461.4 102.15 V101.52 M460.4 101.52 H462.4" stroke="#222" stroke-width="0.6" fill="none"/>
<rect x="463.33" y="104.03" width="2.86" height="10.67" fill="#12c6f2" stroke="#333" stroke-width="0.5"/>
<path d="M464.76 104.03 V103.41 M463.76 103.41 H465.76" stroke="#222" stroke-width="0.6" fill="none"/>
<rect x="466.69" y="104.03" width="2.86" height="10.67" fill="#f7aac8" stroke="#333" stroke-width="0.5"/>
<path d="M468.12 104.03 V103.41 M467.12 103.41 H469.12" stroke="#222" stroke-width="0.6" fill="none"/>
<rect x="470.05" y="87.09" width="2.86" height="27.61" fill="#f7737f" stroke="#333" stroke-width="0.5"/>
<path d="M471.48 87.09 V86.46 M470.48 86.46 H472.48" stroke="#222" stroke-width="0.6" fill="none"/>
<rect x="476.77" y="101.52" width="2.86" height="13.18" fill="#14cf78" stroke="#333" stroke-width="0.5"/>
<path d="M478.2 101.52 V100.9 M477.2 100.9 H479.2" stroke="#222" stroke-width="0.6" fill="none"/>
<rect x="484.97" y="112.19" width="2.86" height="2.51" fill="#8fd8f5" stroke="#333" stroke-width="0.5"/>
<path d="M486.4 112.19 V111.81 M485.4 111.81 H487.4" stroke="#222" stroke-width="0.6" fill="none"/>
<rect x="488.33" y="110.94" width="2.86" height="3.77" fill="#12c6f2" stroke="#333" stroke-width="0.5"/>
<path d="M489.76 110.94 V110.56 M488.76 110.56 H490.76" stroke="#222" stroke-width="0.6" fill="none"/>
<rect x="491.69" y="110.94" width="2.86" height="3.77" fill="#f7aac8" stroke="#333" stroke-width="0.5"/>
<path d="M493.12 110.94 V110.56 M492.12 110.56 H494.12" stroke="#222" stroke-width="0.6" fill="none"/>
<rect x="495.05" y="104.03" width="2.86" height="10.67" fill="#f7737f" stroke="#333" stroke-width="0.5"/>
<path d="M496.48 104.03 V103.41 M495.48 103.41 H497.48" stroke="#222" stroke-width="0.6" fill="none"/>
<rect x="498.41" y="103.41" width="2.86" height="11.3" fill="#bbdfae" stroke="#333" stroke-width="0.5"/>
<path d="M499.84 103.41 V102.78 M498.84 102.78 H500.84" stroke="#222" stroke-width="0.6" fill="none"/>
<rect x="501.77" y="99.64" width="2.86" height="15.06" fill="#14cf78" stroke="#333" stroke-width="0.5"/>
<path d="M503.2 99.64 V99.01 M502.2 99.01 H504.2" stroke="#222" stroke-width="0.6" fill="none"/>
<rect x="509.97" y="50.7" width="2.86" height="64" fill="#8fd8f5" stroke="#333" stroke-width="0.5"/>
<path d="M511.4 50.7 V48.81 M510.4 48.81 H512.4" stroke="#222" stroke-width="0.6" fill="none"/>
<rect x="513.33" y="48.19" width="2.86" height="66.52" fill="#12c6f2" stroke="#333" stroke-width="0.5"/>
<path d="M514.76 48.19 V46.3 M513.76 46.3 H515.76" stroke="#222" stroke-width="0.6" fill="none"/>
<rect x="516.69" y="55.72" width="2.86" height="58.98" fill="#f7aac8" stroke="#333" stroke-width="0.5"/>
<path d="M518.12 55.72 V53.21 M517.12 53.21 H519.12" stroke="#222" stroke-width="0.6" fill="none"/>
<rect x="520.05" y="53.2" width="2.86" height="61.5" fill="#f7737f" stroke="#333" stroke-width="0.5"/>
<path d="M521.48 53.2 V49.44 M520.48 49.44 H522.48" stroke="#222" stroke-width="0.6" fill="none"/>
<rect x="523.41" y="25.59" width="2.86" height="89.11" fill="#bbdfae" stroke="#333" stroke-width="0.5"/>
<path d="M524.84 25.59 V23.09 M523.84 23.09 H525.84" stroke="#222" stroke-width="0.6" fill="none"/>
<rect x="526.77" y="51.32" width="2.86" height="63.38" fill="#14cf78" stroke="#333" stroke-width="0.5"/>
<path d="M528.2 51.32 V50.07 M527.2 50.07 H529.2" stroke="#222" stroke-width="0.6" fill="none"/>
<path d="M407.3 14.3 H532.4 V114.7 H407.3 Z" fill="none" stroke="#333" stroke-width="0.9"/>
<text x="404.6" y="116.8" text-anchor="end" font-family="'Liberation Serif', 'Times New Roman', serif" font-weight="bold" font-size="6.1" fill="#222" stroke="#222" stroke-width="0.12">0.0</text>
<text x="404.6" y="104.25" text-anchor="end" font-family="'Liberation Serif', 'Times New Roman', serif" font-weight="bold" font-size="6.1" fill="#222" stroke="#222" stroke-width="0.12">0.1</text>
<text x="404.6" y="91.7" text-anchor="end" font-family="'Liberation Serif', 'Times New Roman', serif" font-weight="bold" font-size="6.1" fill="#222" stroke="#222" stroke-width="0.12">0.2</text>
<text x="404.6" y="79.15" text-anchor="end" font-family="'Liberation Serif', 'Times New Roman', serif" font-weight="bold" font-size="6.1" fill="#222" stroke="#222" stroke-width="0.12">0.3</text>
<text x="404.6" y="66.6" text-anchor="end" font-family="'Liberation Serif', 'Times New Roman', serif" font-weight="bold" font-size="6.1" fill="#222" stroke="#222" stroke-width="0.12">0.4</text>
<text x="404.6" y="54.05" text-anchor="end" font-family="'Liberation Serif', 'Times New Roman', serif" font-weight="bold" font-size="6.1" fill="#222" stroke="#222" stroke-width="0.12">0.5</text>
<text x="404.6" y="41.5" text-anchor="end" font-family="'Liberation Serif', 'Times New Roman', serif" font-weight="bold" font-size="6.1" fill="#222" stroke="#222" stroke-width="0.12">0.6</text>
<text x="404.6" y="28.95" text-anchor="end" font-family="'Liberation Serif', 'Times New Roman', serif" font-weight="bold" font-size="6.1" fill="#222" stroke="#222" stroke-width="0.12">0.7</text>
<text x="404.6" y="16.4" text-anchor="end" font-family="'Liberation Serif', 'Times New Roman', serif" font-weight="bold" font-size="6.1" fill="#222" stroke="#222" stroke-width="0.12">0.8</text>
<path d="M405.3 114.7 H407.3 M405.3 102.15 H407.3 M405.3 89.6 H407.3 M405.3 77.05 H407.3 M405.3 64.5 H407.3 M405.3 51.95 H407.3 M405.3 39.4 H407.3 M405.3 26.85 H407.3 M405.3 14.3 H407.3 M406.3 108.42 H407.3 M406.3 95.88 H407.3 M406.3 83.33 H407.3 M406.3 70.78 H407.3 M406.3 58.22 H407.3 M406.3 45.67 H407.3 M406.3 33.12 H407.3 M406.3 20.57 H407.3 M419.8 114.7 V116.7 M432.3 114.7 V115.7 M444.8 114.7 V116.7 M457.3 114.7 V115.7 M469.8 114.7 V116.7 M482.3 114.7 V115.7 M494.8 114.7 V116.7 M507.3 114.7 V115.7 M519.8 114.7 V116.7 M532.3 114.7 V115.7" stroke="#222" stroke-width="0.7" fill="none"/>
<text transform="translate(387.2,68.8) rotate(-90)" text-anchor="middle" font-family="'Liberation Serif', 'Times New Roman', serif" font-weight="bold" font-size="5" fill="#222" stroke="#222" stroke-width="0.12">Content (mg/kg)</text>
<text transform="translate(422.4,119) rotate(-45)" text-anchor="end" font-family="'Liberation Serif', 'Times New Roman', serif" font-weight="bold" font-size="6.2" fill="#222" stroke="#222" stroke-width="0.12">Alcohols</text>
<text transform="translate(447.4,119) rotate(-45)" text-anchor="end" font-family="'Liberation Serif', 'Times New Roman', serif" font-weight="bold" font-size="6.2" fill="#222" stroke="#222" stroke-width="0.12">Aldehydes</text>
<text transform="translate(472.4,119) rotate(-45)" text-anchor="end" font-family="'Liberation Serif', 'Times New Roman', serif" font-weight="bold" font-size="6.2" fill="#222" stroke="#222" stroke-width="0.12">Acids</text>
<text transform="translate(497.4,119) rotate(-45)" text-anchor="end" font-family="'Liberation Serif', 'Times New Roman', serif" font-weight="bold" font-size="6.2" fill="#222" stroke="#222" stroke-width="0.12">Pyrazines</text>
<text transform="translate(522.4,119) rotate(-45)" text-anchor="end" font-family="'Liberation Serif', 'Times New Roman', serif" font-weight="bold" font-size="6.2" fill="#222" stroke="#222" stroke-width="0.12">Others</text>
<rect x="436" y="21.6" width="9.8" height="4.6" fill="#8fd8f5" stroke="#555" stroke-width="0.4"/>
<text x="447.8" y="26.1" font-family="'Liberation Serif', 'Times New Roman', serif" font-weight="bold" font-size="6.4" fill="#222" stroke="#222" stroke-width="0.12">H14-M</text>
<rect x="436" y="29.8" width="9.8" height="4.6" fill="#12c6f2" stroke="#555" stroke-width="0.4"/>
<text x="447.8" y="34.3" font-family="'Liberation Serif', 'Times New Roman', serif" font-weight="bold" font-size="6.4" fill="#222" stroke="#222" stroke-width="0.12">H26-M</text>
<rect x="436" y="38" width="9.8" height="4.6" fill="#f7aac8" stroke="#555" stroke-width="0.4"/>
<text x="447.8" y="42.5" font-family="'Liberation Serif', 'Times New Roman', serif" font-weight="bold" font-size="6.4" fill="#222" stroke="#222" stroke-width="0.12">H30-M</text>
<rect x="471.8" y="21.6" width="9.8" height="4.6" fill="#f7737f" stroke="#555" stroke-width="0.4"/>
<text x="483.6" y="26.1" font-family="'Liberation Serif', 'Times New Roman', serif" font-weight="bold" font-size="6.4" fill="#222" stroke="#222" stroke-width="0.12">H14-ZF</text>
<rect x="471.8" y="29.8" width="9.8" height="4.6" fill="#bbdfae" stroke="#555" stroke-width="0.4"/>
<text x="483.6" y="34.3" font-family="'Liberation Serif', 'Times New Roman', serif" font-weight="bold" font-size="6.4" fill="#222" stroke="#222" stroke-width="0.12">H26-ZF</text>
<rect x="471.8" y="38" width="9.8" height="4.6" fill="#14cf78" stroke="#555" stroke-width="0.4"/>
<text x="483.6" y="42.5" font-family="'Liberation Serif', 'Times New Roman', serif" font-weight="bold" font-size="6.4" fill="#222" stroke="#222" stroke-width="0.12">H30-ZF</text>
</g>
<g id="panelC">
<text x="8.8" y="227.7" letter-spacing="0.4" font-family="'Liberation Serif', 'Times New Roman', serif" font-weight="bold" font-size="12.4" fill="#111" stroke="#111" stroke-width="0.12">(C)</text>
<ellipse cx="121.6" cy="315" rx="69.1" ry="76.6" fill="none" stroke="#ababab" stroke-width="1.2"/>
<path d="M47.9 315 H206.2 M121.6 222.3 V398.7" stroke="#111" stroke-width="1.3" fill="none"/>
<path d="M47.9 398.7 H197 M47.9 398.7 V232" stroke="#111" stroke-width="1.3" fill="none"/>
<path d="M205.8 398.7 L195.5 396.1 L195.5 401.3 Z" fill="#111"/>
<path d="M47.9 223 L45.3 233.2 L50.5 233.2 Z" fill="#111"/>
<text x="55.4" y="414.8" text-anchor="middle" font-family="'Liberation Serif', 'Times New Roman', serif" font-weight="bold" font-size="11" fill="#111" stroke="#111" stroke-width="0.12">-3</text>
<text x="76.8" y="414.8" text-anchor="middle" font-family="'Liberation Serif', 'Times New Roman', serif" font-weight="bold" font-size="11" fill="#111" stroke="#111" stroke-width="0.12">-2</text>
<text x="98.2" y="414.8" text-anchor="middle" font-family="'Liberation Serif', 'Times New Roman', serif" font-weight="bold" font-size="11" fill="#111" stroke="#111" stroke-width="0.12">-1</text>
<text x="121.4" y="414.8" text-anchor="middle" font-family="'Liberation Serif', 'Times New Roman', serif" font-weight="bold" font-size="11" fill="#111" stroke="#111" stroke-width="0.12">0</text>
<text x="142.8" y="414.8" text-anchor="middle" font-family="'Liberation Serif', 'Times New Roman', serif" font-weight="bold" font-size="11" fill="#111" stroke="#111" stroke-width="0.12">1</text>
<text x="164.2" y="414.8" text-anchor="middle" font-family="'Liberation Serif', 'Times New Roman', serif" font-weight="bold" font-size="11" fill="#111" stroke="#111" stroke-width="0.12">2</text>
<text x="185.6" y="414.8" text-anchor="middle" font-family="'Liberation Serif', 'Times New Roman', serif" font-weight="bold" font-size="11" fill="#111" stroke="#111" stroke-width="0.12">3</text>
<text x="44.4" y="244.7" text-anchor="end" font-family="'Liberation Serif', 'Times New Roman', serif" font-weight="bold" font-size="11" fill="#111" stroke="#111" stroke-width="0.12">2</text>
<text x="44.4" y="263.2" text-anchor="end" font-family="'Liberation Serif', 'Times New Roman', serif" font-weight="bold" font-size="11" fill="#111" stroke="#111" stroke-width="0.12">1.5</text>
<text x="44.4" y="281.7" text-anchor="end" font-family="'Liberation Serif', 'Times New Roman', serif" font-weight="bold" font-size="11" fill="#111" stroke="#111" stroke-width="0.12">1</text>
<text x="44.4" y="300.2" text-anchor="end" font-family="'Liberation Serif', 'Times New Roman', serif" font-weight="bold" font-size="11" fill="#111" stroke="#111" stroke-width="0.12">0.5</text>
<text x="44.4" y="318.7" text-anchor="end" font-family="'Liberation Serif', 'Times New Roman', serif" font-weight="bold" font-size="11" fill="#111" stroke="#111" stroke-width="0.12">0</text>
<text x="44.4" y="337.2" text-anchor="end" font-family="'Liberation Serif', 'Times New Roman', serif" font-weight="bold" font-size="11" fill="#111" stroke="#111" stroke-width="0.12">-0.5</text>
<text x="44.4" y="355.7" text-anchor="end" font-family="'Liberation Serif', 'Times New Roman', serif" font-weight="bold" font-size="11" fill="#111" stroke="#111" stroke-width="0.12">-1</text>
<text x="44.4" y="374.2" text-anchor="end" font-family="'Liberation Serif', 'Times New Roman', serif" font-weight="bold" font-size="11" fill="#111" stroke="#111" stroke-width="0.12">-1.5</text>
<text x="44.4" y="392.7" text-anchor="end" font-family="'Liberation Serif', 'Times New Roman', serif" font-weight="bold" font-size="11" fill="#111" stroke="#111" stroke-width="0.12">-2</text>
<path d="M57.2 398.7 V401.3 M78.6 398.7 V401.3 M100 398.7 V401.3 M121.4 398.7 V401.3 M142.8 398.7 V401.3 M164.2 398.7 V401.3 M185.6 398.7 V401.3 M67.9 398.7 V400.1 M89.3 398.7 V400.1 M110.7 398.7 V400.1 M132.1 398.7 V400.1 M153.5 398.7 V400.1 M174.9 398.7 V400.1 M45.2 241 H47.9 M45.2 259.5 H47.9 M45.2 278 H47.9 M45.2 296.5 H47.9 M45.2 315 H47.9 M45.2 333.5 H47.9 M45.2 352 H47.9 M45.2 370.5 H47.9 M45.2 389 H47.9 M46.5 398.25 H47.9 M46.5 379.75 H47.9 M46.5 361.25 H47.9 M46.5 342.75 H47.9 M46.5 324.25 H47.9 M46.5 305.75 H47.9 M46.5 287.25 H47.9 M46.5 268.75 H47.9 M46.5 250.25 H47.9 M46.5 231.75 H47.9" stroke="#111" stroke-width="1" fill="none"/>
<text x="127" y="427.8" text-anchor="middle" font-family="'Liberation Serif', 'Times New Roman', serif" font-weight="bold" font-size="11" fill="#111" stroke="#111" stroke-width="0.12">PLS1(53.5%)</text>
<text transform="translate(24.4,310) rotate(-90)" text-anchor="middle" font-family="'Liberation Serif', 'Times New Roman', serif" font-weight="bold" font-size="11.5" fill="#111" stroke="#111" stroke-width="0.12">PLS2(21.4%)</text>
<polygon points="133.7,285.1 135.19,288.55 138.93,288.9 136.11,291.38 136.93,295.05 133.7,293.13 130.47,295.05 131.29,291.38 128.47,288.9 132.21,288.55" fill="#139a3c" stroke="#0d7a2e" stroke-width="0.5"/>
<polygon points="132.1,281.6 133.8,285.56 138.09,285.95 134.86,288.8 135.8,293 132.1,290.8 128.4,293 129.34,288.8 126.11,285.95 130.4,285.56" fill="#1616d8" stroke="#1010b0" stroke-width="0.5"/>
<polygon points="128.6,285.9 130.36,289.98 134.78,290.39 131.44,293.32 132.42,297.66 128.6,295.39 124.78,297.66 125.76,293.32 122.42,290.39 126.84,289.98" fill="#ee1212" stroke="#c80c0c" stroke-width="0.5"/>
<polygon points="137.4,340.1 138.78,343.3 142.25,343.62 139.63,345.92 140.4,349.33 137.4,347.55 134.4,349.33 135.17,345.92 132.55,343.62 136.02,343.3" fill="#f5e214" stroke="#c9ae10" stroke-width="0.5"/>
<polygon points="130.5,350.5 131.82,353.58 135.16,353.89 132.64,356.1 133.38,359.36 130.5,357.65 127.62,359.36 128.36,356.1 125.84,353.89 129.18,353.58" fill="#b416c4" stroke="#8a0e98" stroke-width="0.5"/>
<polygon points="68,311.2 69.35,314.34 72.76,314.65 70.19,316.91 70.94,320.25 68,318.5 65.06,320.25 65.81,316.91 63.24,314.65 66.65,314.34" fill="#1aa2ec" stroke="#1488cc" stroke-width="0.5"/>
<rect x="210.5" y="220.6" width="10.4" height="10.6" fill="#1db04e"/>
<text x="222.2" y="229.7" font-family="'Liberation Serif', 'Times New Roman', serif" font-weight="bold" font-size="11.1" fill="#111" stroke="#111" stroke-width="0.12">H14-M</text>
<rect x="210.5" y="234.46" width="10.4" height="10.6" fill="#3c52c0"/>
<text x="222.2" y="243.56" font-family="'Liberation Serif', 'Times New Roman', serif" font-weight="bold" font-size="11.1" fill="#111" stroke="#111" stroke-width="0.12">H26-M</text>
<rect x="210.5" y="248.32" width="10.4" height="10.6" fill="#d2121c"/>
<text x="222.2" y="257.42" font-family="'Liberation Serif', 'Times New Roman', serif" font-weight="bold" font-size="11.1" fill="#111" stroke="#111" stroke-width="0.12">H30-M</text>
<rect x="210.5" y="262.18" width="10.4" height="10.6" fill="#ffe20a"/>
<text x="222.2" y="271.28" font-family="'Liberation Serif', 'Times New Roman', serif" font-weight="bold" font-size="11.1" fill="#111" stroke="#111" stroke-width="0.12">H14-ZF</text>
<rect x="210.5" y="276.04" width="10.4" height="10.6" fill="#16aaf0"/>
<text x="222.2" y="285.14" font-family="'Liberation Serif', 'Times New Roman', serif" font-weight="bold" font-size="11.1" fill="#111" stroke="#111" stroke-width="0.12">H26-ZF</text>
<rect x="210.5" y="289.9" width="10.4" height="10.6" fill="#a232c2"/>
<text x="222.2" y="299" font-family="'Liberation Serif', 'Times New Roman', serif" font-weight="bold" font-size="11.1" fill="#111" stroke="#111" stroke-width="0.12">H30-ZF</text>
</g>
<g id="panelD">
<text x="296.2" y="228.2" letter-spacing="0.4" font-family="'Liberation Serif', 'Times New Roman', serif" font-weight="bold" font-size="12.4" fill="#111" stroke="#111" stroke-width="0.12">(D)</text>
<circle cx="327.1" cy="217.9" r="4.2" fill="#1bb4c9"/>
<circle cx="341.55" cy="217.9" r="4.2" fill="#1bb4c9"/>
<circle cx="356" cy="217.9" r="4.2" fill="#1bb4c9"/>
<circle cx="370.45" cy="217.9" r="4.2" fill="#9ecdb6"/>
<circle cx="384.9" cy="217.9" r="4.2" fill="#c8dca8"/>
<circle cx="399.35" cy="217.9" r="4.2" fill="#f4692a"/>
<text x="407.6" y="220.4" font-family="'Liberation Serif', 'Times New Roman', serif" font-weight="bold" font-size="7.2" fill="#222" stroke="#222" stroke-width="0.12">2,5-Dimethylprazine</text>
<circle cx="327.1" cy="227.6" r="4.2" fill="#1bb4c9"/>
<circle cx="341.55" cy="227.6" r="4.2" fill="#1bb4c9"/>
<circle cx="356" cy="227.6" r="4.2" fill="#eae4a6"/>
<circle cx="370.45" cy="227.6" r="4.2" fill="#f4692a"/>
<circle cx="384.9" cy="227.6" r="4.2" fill="#1bb4c9"/>
<circle cx="399.35" cy="227.6" r="4.2" fill="#1bb4c9"/>
<text x="407.6" y="230.1" font-family="'Liberation Serif', 'Times New Roman', serif" font-weight="bold" font-size="7.2" fill="#222" stroke="#222" stroke-width="0.12">2,6-Dimethylpyrazine</text>
<circle cx="327.1" cy="237.3" r="4.2" fill="#f2d49a"/>
<circle cx="341.55" cy="237.3" r="4.2" fill="#f2d49a"/>
<circle cx="356" cy="237.3" r="4.2" fill="#f2d49a"/>
<circle cx="370.45" cy="237.3" r="4.2" fill="#1a90da"/>
<circle cx="384.9" cy="237.3" r="4.2" fill="#f8b27e"/>
<circle cx="399.35" cy="237.3" r="4.2" fill="#1a90da"/>
<text x="407.6" y="239.8" font-family="'Liberation Serif', 'Times New Roman', serif" font-weight="bold" font-size="7.2" fill="#222" stroke="#222" stroke-width="0.12">Tetradecane</text>
<circle cx="327.1" cy="247" r="4.2" fill="#1bb4c9"/>
<circle cx="341.55" cy="247" r="4.2" fill="#1bb4c9"/>
<circle cx="356" cy="247" r="4.2" fill="#1bb4c9"/>
<circle cx="370.45" cy="247" r="4.2" fill="#f2d49a"/>
<circle cx="384.9" cy="247" r="4.2" fill="#1bb4c9"/>
<circle cx="399.35" cy="247" r="4.2" fill="#f4692a"/>
<text x="407.6" y="249.5" font-family="'Liberation Serif', 'Times New Roman', serif" font-weight="bold" font-size="7.2" fill="#222" stroke="#222" stroke-width="0.12">2,6,11-Trimethyldodecane</text>
<circle cx="327.1" cy="256.7" r="4.2" fill="#f4692a"/>
<circle cx="341.55" cy="256.7" r="4.2" fill="#5dbdb9"/>
<circle cx="356" cy="256.7" r="4.2" fill="#5dbdb9"/>
<circle cx="370.45" cy="256.7" r="4.2" fill="#5dbdb9"/>
<circle cx="384.9" cy="256.7" r="4.2" fill="#5dbdb9"/>
<circle cx="399.35" cy="256.7" r="4.2" fill="#5dbdb9"/>
<text x="407.6" y="259.2" font-family="'Liberation Serif', 'Times New Roman', serif" font-weight="bold" font-size="7.2" fill="#222" stroke="#222" stroke-width="0.12">2-Acetylamino-3-hydroxy-propionic acid</text>
<circle cx="327.1" cy="266.4" r="4.2" fill="#f8b27e"/>
<circle cx="341.55" cy="266.4" r="4.2" fill="#12a6d6"/>
<circle cx="356" cy="266.4" r="4.2" fill="#12a6d6"/>
<circle cx="370.45" cy="266.4" r="4.2" fill="#c8dca8"/>
<circle cx="384.9" cy="266.4" r="4.2" fill="#f8b27e"/>
<circle cx="399.35" cy="266.4" r="4.2" fill="#12a6d6"/>
<text x="407.6" y="268.9" font-family="'Liberation Serif', 'Times New Roman', serif" font-weight="bold" font-size="7.2" fill="#222" stroke="#222" stroke-width="0.12">2,6,10-Trimethyltetradecane</text>
<circle cx="327.1" cy="276.1" r="4.2" fill="#1bb4c9"/>
<circle cx="341.55" cy="276.1" r="4.2" fill="#c8dca8"/>
<circle cx="356" cy="276.1" r="4.2" fill="#1bb4c9"/>
<circle cx="370.45" cy="276.1" r="4.2" fill="#1bb4c9"/>
<circle cx="384.9" cy="276.1" r="4.2" fill="#1bb4c9"/>
<circle cx="399.35" cy="276.1" r="4.2" fill="#f4692a"/>
<text x="407.6" y="278.6" font-family="'Liberation Serif', 'Times New Roman', serif" font-weight="bold" font-size="7.2" fill="#222" stroke="#222" stroke-width="0.12">2-Nonenoic acid, 2-methyl-, methyl ester</text>
<circle cx="327.1" cy="285.8" r="4.2" fill="#f8b27e"/>
<circle cx="341.55" cy="285.8" r="4.2" fill="#f2d49a"/>
<circle cx="356" cy="285.8" r="4.2" fill="#f8b27e"/>
<circle cx="370.45" cy="285.8" r="4.2" fill="#12a6d6"/>
<circle cx="384.9" cy="285.8" r="4.2" fill="#12a6d6"/>
<circle cx="399.35" cy="285.8" r="4.2" fill="#12a6d6"/>
<text x="407.6" y="288.3" font-family="'Liberation Serif', 'Times New Roman', serif" font-weight="bold" font-size="7.2" fill="#222" stroke="#222" stroke-width="0.12">1-Hexadecanol</text>
<circle cx="327.1" cy="295.5" r="4.2" fill="#9ecdb6"/>
<circle cx="341.55" cy="295.5" r="4.2" fill="#f4692a"/>
<circle cx="356" cy="295.5" r="4.2" fill="#5dbdb9"/>
<circle cx="370.45" cy="295.5" r="4.2" fill="#5dbdb9"/>
<circle cx="384.9" cy="295.5" r="4.2" fill="#5dbdb9"/>
<circle cx="399.35" cy="295.5" r="4.2" fill="#5dbdb9"/>
<text x="407.6" y="298" font-family="'Liberation Serif', 'Times New Roman', serif" font-weight="bold" font-size="7.2" fill="#222" stroke="#222" stroke-width="0.12">13-Tetradecynoic acid methyl ester</text>
<circle cx="327.1" cy="305.2" r="4.2" fill="#5dbdb9"/>
<circle cx="341.55" cy="305.2" r="4.2" fill="#5dbdb9"/>
<circle cx="356" cy="305.2" r="4.2" fill="#5dbdb9"/>
<circle cx="370.45" cy="305.2" r="4.2" fill="#f4692a"/>
<circle cx="384.9" cy="305.2" r="4.2" fill="#5dbdb9"/>
<circle cx="399.35" cy="305.2" r="4.2" fill="#5dbdb9"/>
<text x="407.6" y="307.7" font-family="'Liberation Serif', 'Times New Roman', serif" font-weight="bold" font-size="7.2" fill="#222" stroke="#222" stroke-width="0.12">4-Decenoic acid methyl ester</text>
<circle cx="327.1" cy="314.9" r="4.2" fill="#1bb4c9"/>
<circle cx="341.55" cy="314.9" r="4.2" fill="#1bb4c9"/>
<circle cx="356" cy="314.9" r="4.2" fill="#1bb4c9"/>
<circle cx="370.45" cy="314.9" r="4.2" fill="#f78a45"/>
<circle cx="384.9" cy="314.9" r="4.2" fill="#1bb4c9"/>
<circle cx="399.35" cy="314.9" r="4.2" fill="#f2d49a"/>
<text x="407.6" y="317.4" font-family="'Liberation Serif', 'Times New Roman', serif" font-weight="bold" font-size="7.2" fill="#222" stroke="#222" stroke-width="0.12">Isovaleric acid</text>
<circle cx="327.1" cy="324.6" r="4.2" fill="#eae4a6"/>
<circle cx="341.55" cy="324.6" r="4.2" fill="#1bb4c9"/>
<circle cx="356" cy="324.6" r="4.2" fill="#f4692a"/>
<circle cx="370.45" cy="324.6" r="4.2" fill="#1bb4c9"/>
<circle cx="384.9" cy="324.6" r="4.2" fill="#1bb4c9"/>
<circle cx="399.35" cy="324.6" r="4.2" fill="#1bb4c9"/>
<text x="407.6" y="327.1" font-family="'Liberation Serif', 'Times New Roman', serif" font-weight="bold" font-size="7.2" fill="#222" stroke="#222" stroke-width="0.12">DL-3-Methylvaleric acid</text>
<circle cx="327.1" cy="334.3" r="4.2" fill="#5dbdb9"/>
<circle cx="341.55" cy="334.3" r="4.2" fill="#5dbdb9"/>
<circle cx="356" cy="334.3" r="4.2" fill="#5dbdb9"/>
<circle cx="370.45" cy="334.3" r="4.2" fill="#f4692a"/>
<circle cx="384.9" cy="334.3" r="4.2" fill="#5dbdb9"/>
<circle cx="399.35" cy="334.3" r="4.2" fill="#5dbdb9"/>
<text x="407.6" y="336.8" font-family="'Liberation Serif', 'Times New Roman', serif" font-weight="bold" font-size="7.2" fill="#222" stroke="#222" stroke-width="0.12">Cedarene</text>
<circle cx="327.1" cy="344" r="4.2" fill="#f4692a"/>
<circle cx="341.55" cy="344" r="4.2" fill="#5dbdb9"/>
<circle cx="356" cy="344" r="4.2" fill="#5dbdb9"/>
<circle cx="370.45" cy="344" r="4.2" fill="#5dbdb9"/>
<circle cx="384.9" cy="344" r="4.2" fill="#5dbdb9"/>
<circle cx="399.35" cy="344" r="4.2" fill="#5dbdb9"/>
<text x="407.6" y="346.5" font-family="'Liberation Serif', 'Times New Roman', serif" font-weight="bold" font-size="7.2" fill="#222" stroke="#222" stroke-width="0.12">Methyl laurate</text>
<circle cx="327.1" cy="353.7" r="4.2" fill="#12a6d6"/>
<circle cx="341.55" cy="353.7" r="4.2" fill="#f8b27e"/>
<circle cx="356" cy="353.7" r="4.2" fill="#f89c5e"/>
<circle cx="370.45" cy="353.7" r="4.2" fill="#12a6d6"/>
<circle cx="384.9" cy="353.7" r="4.2" fill="#12a6d6"/>
<circle cx="399.35" cy="353.7" r="4.2" fill="#c8dca8"/>
<text x="407.6" y="356.2" font-family="'Liberation Serif', 'Times New Roman', serif" font-weight="bold" font-size="7.2" fill="#222" stroke="#222" stroke-width="0.12">Methyl 10-Methylundecanoate</text>
<circle cx="327.1" cy="363.4" r="4.2" fill="#1bb4c9"/>
<circle cx="341.55" cy="363.4" r="4.2" fill="#9ecdb6"/>
<circle cx="356" cy="363.4" r="4.2" fill="#1bb4c9"/>
<circle cx="370.45" cy="363.4" r="4.2" fill="#5dbdb9"/>
<circle cx="384.9" cy="363.4" r="4.2" fill="#5dbdb9"/>
<circle cx="399.35" cy="363.4" r="4.2" fill="#f4692a"/>
<text x="407.6" y="365.9" font-family="'Liberation Serif', 'Times New Roman', serif" font-weight="bold" font-size="7.2" fill="#222" stroke="#222" stroke-width="0.12">Phenethyl alcohol</text>
<circle cx="327.1" cy="373.1" r="4.2" fill="#1bb4c9"/>
<circle cx="341.55" cy="373.1" r="4.2" fill="#eae4a6"/>
<circle cx="356" cy="373.1" r="4.2" fill="#f4692a"/>
<circle cx="370.45" cy="373.1" r="4.2" fill="#1bb4c9"/>
<circle cx="384.9" cy="373.1" r="4.2" fill="#1bb4c9"/>
<circle cx="399.35" cy="373.1" r="4.2" fill="#1bb4c9"/>
<text x="407.6" y="375.6" font-family="'Liberation Serif', 'Times New Roman', serif" font-weight="bold" font-size="7.2" fill="#222" stroke="#222" stroke-width="0.12"> Stearolic acid</text>
<circle cx="327.1" cy="382.8" r="4.2" fill="#1bb4c9"/>
<circle cx="341.55" cy="382.8" r="4.2" fill="#5dbdb9"/>
<circle cx="356" cy="382.8" r="4.2" fill="#5dbdb9"/>
<circle cx="370.45" cy="382.8" r="4.2" fill="#5dbdb9"/>
<circle cx="384.9" cy="382.8" r="4.2" fill="#f4692a"/>
<circle cx="399.35" cy="382.8" r="4.2" fill="#9ecdb6"/>
<text x="407.6" y="385.3" font-family="'Liberation Serif', 'Times New Roman', serif" font-weight="bold" font-size="7.2" fill="#222" stroke="#222" stroke-width="0.12">Methyl palmitate</text>
<circle cx="327.1" cy="392.5" r="4.2" fill="#5dbdb9"/>
<circle cx="341.55" cy="392.5" r="4.2" fill="#f4692a"/>
<circle cx="356" cy="392.5" r="4.2" fill="#5dbdb9"/>
<circle cx="370.45" cy="392.5" r="4.2" fill="#5dbdb9"/>
<circle cx="384.9" cy="392.5" r="4.2" fill="#5dbdb9"/>
<circle cx="399.35" cy="392.5" r="4.2" fill="#5dbdb9"/>
<text x="407.6" y="395" font-family="'Liberation Serif', 'Times New Roman', serif" font-weight="bold" font-size="7.2" fill="#222" stroke="#222" stroke-width="0.12">13-Octadecenoic acid methyl ester</text>
<circle cx="327.1" cy="402.2" r="4.2" fill="#5dbdb9"/>
<circle cx="341.55" cy="402.2" r="4.2" fill="#5dbdb9"/>
<circle cx="356" cy="402.2" r="4.2" fill="#5dbdb9"/>
<circle cx="370.45" cy="402.2" r="4.2" fill="#f4692a"/>
<circle cx="384.9" cy="402.2" r="4.2" fill="#5dbdb9"/>
<circle cx="399.35" cy="402.2" r="4.2" fill="#5dbdb9"/>
<text x="407.6" y="404.7" font-family="'Liberation Serif', 'Times New Roman', serif" font-weight="bold" font-size="7.2" fill="#222" stroke="#222" stroke-width="0.12">10-Octadecenoic acid methyl ester</text>
<circle cx="327.1" cy="411.9" r="4.2" fill="#1bb4c9"/>
<circle cx="341.55" cy="411.9" r="4.2" fill="#5dbdb9"/>
<circle cx="356" cy="411.9" r="4.2" fill="#9ecdb6"/>
<circle cx="370.45" cy="411.9" r="4.2" fill="#1bb4c9"/>
<circle cx="384.9" cy="411.9" r="4.2" fill="#f4692a"/>
<circle cx="399.35" cy="411.9" r="4.2" fill="#9ecdb6"/>
<text x="407.6" y="414.4" font-family="'Liberation Serif', 'Times New Roman', serif" font-weight="bold" font-size="7.2" fill="#222" stroke="#222" stroke-width="0.12">Methyl linoleate</text>
<text transform="translate(330.1,423.2) rotate(-45)" text-anchor="end" font-family="'Liberation Serif', 'Times New Roman', serif" font-weight="bold" font-size="7" fill="#222" stroke="#222" stroke-width="0.12">H14-M</text>
<text transform="translate(344.55,423.2) rotate(-45)" text-anchor="end" font-family="'Liberation Serif', 'Times New Roman', serif" font-weight="bold" font-size="7" fill="#222" stroke="#222" stroke-width="0.12">H26-M</text>
<text transform="translate(359,423.2) rotate(-45)" text-anchor="end" font-family="'Liberation Serif', 'Times New Roman', serif" font-weight="bold" font-size="7" fill="#222" stroke="#222" stroke-width="0.12">H30-M</text>
<text transform="translate(373.45,423.2) rotate(-45)" text-anchor="end" font-family="'Liberation Serif', 'Times New Roman', serif" font-weight="bold" font-size="7" fill="#222" stroke="#222" stroke-width="0.12">H14-ZF</text>
<text transform="translate(387.9,423.2) rotate(-45)" text-anchor="end" font-family="'Liberation Serif', 'Times New Roman', serif" font-weight="bold" font-size="7" fill="#222" stroke="#222" stroke-width="0.12">H26-ZF</text>
<text transform="translate(402.35,423.2) rotate(-45)" text-anchor="end" font-family="'Liberation Serif', 'Times New Roman', serif" font-weight="bold" font-size="7" fill="#222" stroke="#222" stroke-width="0.12">H30-ZF</text>
<defs><linearGradient id="cb" x1="0" y1="0" x2="0" y2="1"><stop offset="0" stop-color="#f25418"/><stop offset="0.25" stop-color="#f6884a"/><stop offset="0.45" stop-color="#f8c890"/><stop offset="0.58" stop-color="#ece6b0"/><stop offset="0.72" stop-color="#7cc8bc"/><stop offset="0.85" stop-color="#22b0cc"/><stop offset="1" stop-color="#1a88de"/></linearGradient></defs>
<rect x="511.6" y="211.7" width="6.4" height="39.4" fill="url(#cb)"/>
<text x="520.2" y="213.2" font-family="'Liberation Serif', 'Times New Roman', serif" font-weight="bold" font-size="3.4" fill="#333" stroke="#333" stroke-width="0.12">2.50</text>
<text x="520.2" y="218.09" font-family="'Liberation Serif', 'Times New Roman', serif" font-weight="bold" font-size="3.4" fill="#333" stroke="#333" stroke-width="0.12">2.00</text>
<text x="520.2" y="222.98" font-family="'Liberation Serif', 'Times New Roman', serif" font-weight="bold" font-size="3.4" fill="#333" stroke="#333" stroke-width="0.12">1.50</text>
<text x="520.2" y="227.87" font-family="'Liberation Serif', 'Times New Roman', serif" font-weight="bold" font-size="3.4" fill="#333" stroke="#333" stroke-width="0.12">1.00</text>
<text x="520.2" y="232.76" font-family="'Liberation Serif', 'Times New Roman', serif" font-weight="bold" font-size="3.4" fill="#333" stroke="#333" stroke-width="0.12">0.50</text>
<text x="520.2" y="237.65" font-family="'Liberation Serif', 'Times New Roman', serif" font-weight="bold" font-size="3.4" fill="#333" stroke="#333" stroke-width="0.12">0.00</text>
<text x="520.2" y="242.54" font-family="'Liberation Serif', 'Times New Roman', serif" font-weight="bold" font-size="3.4" fill="#333" stroke="#333" stroke-width="0.12">-0.50</text>
<text x="520.2" y="247.43" font-family="'Liberation Serif', 'Times New Roman', serif" font-weight="bold" font-size="3.4" fill="#333" stroke="#333" stroke-width="0.12">-1.00</text>
<text x="520.2" y="252.32" font-family="'Liberation Serif', 'Times New Roman', serif" font-weight="bold" font-size="3.4" fill="#333" stroke="#333" stroke-width="0.12">-1.50</text>
</g>
</svg></body></html>
